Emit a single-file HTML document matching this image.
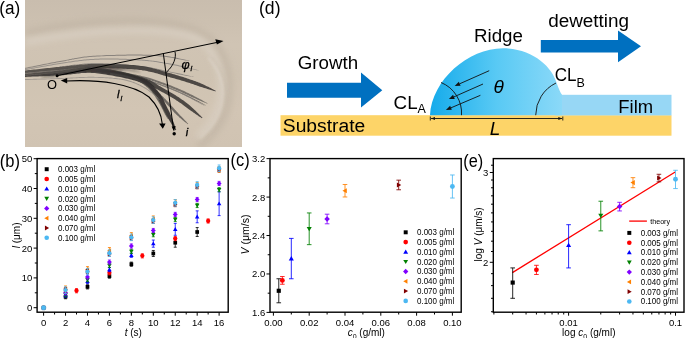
<!DOCTYPE html>
<html><head><meta charset="utf-8"><title>Figure</title>
<style>html,body{margin:0;padding:0;background:#fff;} svg{display:block;}</style>
</head><body>
<svg width="685" height="338" viewBox="0 0 685 338" font-family='"Liberation Sans", Arial, sans-serif'><text x="-0.80" y="14.00" font-size="18" text-anchor="start" fill="#000" textLength="21" lengthAdjust="spacingAndGlyphs" >(a)</text>
<text x="259.00" y="14.00" font-size="18" text-anchor="start" fill="#000" textLength="21.5" lengthAdjust="spacingAndGlyphs" >(d)</text>
<text x="-0.30" y="167.00" font-size="17.5" text-anchor="start" fill="#000" textLength="20.2" lengthAdjust="spacingAndGlyphs" >(b)</text>
<text x="230.60" y="166.40" font-size="17.5" text-anchor="start" fill="#000" textLength="19.2" lengthAdjust="spacingAndGlyphs" >(c)</text>
<text x="463.30" y="166.60" font-size="17.5" text-anchor="start" fill="#000" textLength="19.9" lengthAdjust="spacingAndGlyphs" >(e)</text>
<defs><linearGradient id="pbg" x1="0" y1="0" x2="0" y2="1"><stop offset="0" stop-color="#c9bdae"/><stop offset="0.15" stop-color="#ccc0b0"/><stop offset="0.3" stop-color="#d0c4b4"/><stop offset="0.5" stop-color="#cfc3b2"/><stop offset="0.75" stop-color="#d2c5b4"/><stop offset="1" stop-color="#d0c3b2"/></linearGradient><filter id="bl0" x="-20%" y="-20%" width="140%" height="140%"><feGaussianBlur stdDeviation="0.45"/></filter><filter id="bl1" x="-20%" y="-20%" width="140%" height="140%"><feGaussianBlur stdDeviation="0.8"/></filter><filter id="bl2" x="-20%" y="-20%" width="140%" height="140%"><feGaussianBlur stdDeviation="1.6"/></filter><filter id="bl3" x="-50%" y="-50%" width="200%" height="200%"><feGaussianBlur stdDeviation="3"/></filter><linearGradient id="fmg" x1="20" y1="0" x2="130" y2="0" gradientUnits="userSpaceOnUse"><stop offset="0" stop-color="#fff" stop-opacity="0.9"/><stop offset="0.55" stop-color="#fff" stop-opacity="0.92"/><stop offset="1" stop-color="#fff" stop-opacity="1"/></linearGradient><mask id="fmask" maskUnits="userSpaceOnUse" x="0" y="0" width="685" height="338"><rect x="0" y="0" width="685" height="338" fill="url(#fmg)"/></mask><clipPath id="pclip"><rect x="25" y="0" width="217" height="147"/></clipPath></defs>
<rect x="25" y="0" width="217" height="147" fill="url(#pbg)"/>
<g clip-path="url(#pclip)">
<path d="M25,33 C60,25 100,20 140,21 C175,22 200,28 214,42 C230,60 232,88 227,108 C222,126 210,138 198,147" fill="none" stroke="#c0b4a4" stroke-width="7" filter="url(#bl3)" opacity="0.7"/>
<path d="M25,42 C60,35 100,30 140,30.5 C175,31 195,35 205,44 C218,58 223,78 221,95 C219,112 210,126 198,137" fill="none" stroke="#dbd2c6" stroke-width="6" filter="url(#bl3)" opacity="0.75"/>
<path d="M208,58 C219,70 224,85 222,100 C220,115 212,128 200,138" fill="none" stroke="#ddd5cb" stroke-width="1.5" filter="url(#bl1)" opacity="0.6"/>
<path d="M212,57 C223,70 228,86 226,102 C224,117 216,130 204,140" fill="none" stroke="#b8ac9d" stroke-width="0.9" filter="url(#bl1)" opacity="0.45"/>
<g mask="url(#fmask)">
<path d="M20.1,76.2 L21.0,76.2 L22.1,76.1 L23.3,76.0 L24.6,75.9 L26.0,75.8 L27.4,75.6 L29.0,75.5 L30.7,75.4 L32.4,75.2 L34.2,75.1 L36.1,74.9 L38.0,74.8 L39.9,74.6 L41.8,74.4 L43.8,74.3 L45.7,74.1 L47.6,74.0 L49.6,73.8 L51.4,73.6 L53.3,73.5 L55.1,73.4 L56.9,73.2 L58.5,73.1 L60.1,72.9 L61.7,72.8 L63.3,72.7 L64.8,72.6 L66.4,72.4 L67.9,72.3 L69.5,72.2 L71.0,72.0 L72.6,71.9 L74.1,71.8 L75.6,71.6 L77.1,71.5 L78.6,71.4 L80.1,71.3 L81.5,71.1 L83.0,71.0 L84.4,70.9 L85.8,70.8 L87.2,70.7 L88.6,70.6 L89.9,70.5 L91.2,70.5 L92.5,70.4 L93.8,70.3 L95.1,70.2 L96.3,70.2 L97.5,70.1 L98.7,70.1 L99.9,70.1 L101.0,70.0 L102.1,70.0 L103.2,69.9 L104.3,69.9 L105.4,69.9 L106.4,69.8 L107.4,69.8 L108.4,69.8 L109.4,69.7 L110.4,69.7 L111.4,69.7 L112.4,69.7 L113.3,69.7 L114.3,69.7 L115.2,69.7 L116.2,69.7 L117.1,69.7 L118.0,69.7 L119.0,69.8 L119.9,69.8 L120.8,69.9 L121.8,69.9 L122.7,70.0 L123.7,70.1 L124.7,70.2 L125.6,70.3 L126.6,70.4 L127.6,70.5 L128.6,70.7 L129.5,70.8 L130.5,71.0 L131.4,71.1 L132.3,71.2 L133.2,71.4 L134.0,71.5 L134.9,71.6 L135.7,71.7 L136.4,71.8 L137.1,71.9 L137.8,72.0 L138.4,72.1 L139.0,72.2 L139.5,72.3 L139.9,72.4 L140.1,71.6 L139.6,71.5 L139.1,71.4 L138.6,71.3 L138.0,71.2 L137.3,71.0 L136.6,70.8 L135.9,70.5 L135.1,70.3 L134.3,70.1 L133.5,69.9 L132.6,69.6 L131.7,69.4 L130.8,69.2 L129.9,69.0 L128.9,68.7 L128.0,68.5 L127.0,68.3 L126.0,68.1 L125.0,67.9 L124.0,67.8 L123.0,67.6 L122.0,67.4 L121.1,67.3 L120.1,67.2 L119.2,67.1 L118.2,67.0 L117.3,66.9 L116.3,66.8 L115.3,66.8 L114.4,66.7 L113.4,66.7 L112.4,66.6 L111.5,66.6 L110.5,66.5 L109.4,66.5 L108.4,66.5 L107.4,66.5 L106.4,66.4 L105.3,66.4 L104.2,66.4 L103.1,66.4 L102.0,66.5 L100.9,66.5 L99.7,66.6 L98.6,66.6 L97.4,66.6 L96.2,66.7 L94.9,66.8 L93.6,66.8 L92.4,66.9 L91.0,67.0 L89.7,67.0 L88.3,67.1 L86.9,67.2 L85.5,67.3 L84.1,67.4 L82.7,67.5 L81.2,67.7 L79.8,67.8 L78.3,67.9 L76.8,68.0 L75.3,68.2 L73.8,68.3 L72.3,68.4 L70.7,68.5 L69.2,68.7 L67.6,68.8 L66.1,68.9 L64.5,69.1 L63.0,69.2 L61.4,69.3 L59.9,69.5 L58.3,69.6 L56.6,69.7 L54.8,69.9 L53.0,70.0 L51.2,70.2 L49.3,70.3 L47.4,70.5 L45.4,70.6 L43.5,70.8 L41.5,71.0 L39.6,71.1 L37.7,71.3 L35.8,71.4 L33.9,71.6 L32.1,71.7 L30.4,71.9 L28.7,72.0 L27.2,72.1 L25.7,72.3 L24.3,72.4 L23.0,72.5 L21.8,72.6 L20.8,72.7 L19.9,72.8 Z" fill="#4a4643" fill-opacity="0.55" filter="url(#bl1)"/>
<path d="M20.1,69.9 L21.0,69.7 L22.0,69.5 L23.2,69.3 L24.5,69.0 L25.9,68.7 L27.4,68.4 L29.0,68.1 L30.7,67.7 L32.4,67.4 L34.2,67.0 L36.0,66.7 L37.9,66.3 L39.8,65.9 L41.8,65.5 L43.7,65.1 L45.7,64.7 L47.6,64.3 L49.5,64.0 L51.4,63.6 L53.3,63.2 L55.1,62.9 L56.8,62.6 L58.5,62.3 L60.1,62.0 L61.6,61.7 L63.1,61.4 L64.5,61.2 L65.9,60.9 L67.3,60.6 L68.6,60.4 L69.9,60.1 L71.2,59.9 L72.5,59.6 L73.8,59.4 L75.0,59.1 L76.3,58.9 L77.6,58.7 L79.0,58.4 L80.3,58.2 L81.7,58.0 L83.2,57.8 L84.7,57.6 L86.2,57.5 L87.8,57.3 L89.5,57.1 L91.3,57.0 L93.1,56.8 L95.0,56.7 L97.1,56.6 L99.2,56.5 L101.5,56.3 L103.9,56.2 L106.3,56.1 L108.8,56.1 L111.4,56.0 L114.1,55.9 L116.8,55.8 L119.5,55.8 L122.2,55.7 L125.0,55.7 L127.8,55.6 L130.5,55.6 L133.2,55.6 L135.9,55.6 L138.6,55.6 L141.2,55.6 L143.7,55.7 L146.1,55.7 L148.5,55.8 L150.8,55.8 L152.9,55.9 L155.0,56.0 L156.9,56.1 L158.9,56.3 L160.8,56.4 L162.6,56.6 L164.5,56.8 L166.3,57.1 L168.0,57.3 L169.7,57.6 L171.4,57.8 L173.0,58.1 L174.6,58.4 L176.2,58.7 L177.6,58.9 L179.1,59.2 L180.5,59.5 L181.8,59.7 L183.0,59.9 L184.2,60.2 L185.4,60.4 L186.4,60.6 L187.4,60.7 L188.4,60.9 L189.2,61.0 L190.0,61.1 L190.0,60.9 L189.3,60.7 L188.4,60.6 L187.5,60.3 L186.5,60.1 L185.5,59.8 L184.4,59.6 L183.2,59.3 L181.9,59.0 L180.6,58.7 L179.2,58.4 L177.8,58.1 L176.3,57.7 L174.8,57.4 L173.2,57.1 L171.6,56.9 L169.9,56.6 L168.2,56.3 L166.4,56.1 L164.6,55.8 L162.7,55.6 L160.9,55.4 L158.9,55.3 L157.0,55.1 L155.0,55.0 L153.0,54.9 L150.8,54.8 L148.5,54.8 L146.2,54.7 L143.7,54.7 L141.2,54.6 L138.6,54.6 L135.9,54.6 L133.2,54.6 L130.5,54.6 L127.8,54.6 L125.0,54.7 L122.2,54.7 L119.5,54.8 L116.8,54.8 L114.1,54.9 L111.4,55.0 L108.8,55.1 L106.3,55.1 L103.8,55.2 L101.5,55.4 L99.2,55.5 L97.0,55.6 L95.0,55.7 L93.0,55.8 L91.2,56.0 L89.4,56.1 L87.7,56.3 L86.1,56.5 L84.5,56.6 L83.0,56.8 L81.6,57.0 L80.2,57.2 L78.8,57.5 L77.5,57.7 L76.2,57.9 L74.9,58.1 L73.6,58.4 L72.3,58.6 L71.0,58.9 L69.7,59.1 L68.4,59.4 L67.1,59.7 L65.7,59.9 L64.3,60.2 L62.9,60.5 L61.4,60.7 L59.9,61.0 L58.3,61.3 L56.6,61.6 L54.9,61.9 L53.1,62.3 L51.2,62.6 L49.3,63.0 L47.4,63.4 L45.5,63.7 L43.5,64.1 L41.6,64.5 L39.6,64.9 L37.7,65.3 L35.8,65.7 L34.0,66.0 L32.2,66.4 L30.5,66.8 L28.8,67.1 L27.2,67.4 L25.7,67.7 L24.3,68.0 L23.0,68.3 L21.8,68.5 L20.8,68.7 L19.9,68.9 Z" fill="#7f7a75" fill-opacity="0.9" filter="url(#bl0)"/>
<path d="M20.1,71.1 L21.0,70.9 L22.0,70.7 L23.2,70.5 L24.5,70.3 L25.9,70.0 L27.4,69.7 L29.0,69.5 L30.6,69.1 L32.4,68.8 L34.2,68.5 L36.0,68.1 L37.9,67.8 L39.8,67.5 L41.8,67.1 L43.7,66.8 L45.6,66.4 L47.6,66.1 L49.5,65.7 L51.4,65.4 L53.2,65.1 L55.0,64.8 L56.8,64.5 L58.5,64.2 L60.1,64.0 L61.6,63.8 L63.1,63.5 L64.6,63.3 L66.1,63.1 L67.5,62.8 L68.9,62.6 L70.3,62.4 L71.7,62.2 L73.1,62.0 L74.5,61.8 L75.9,61.6 L77.3,61.4 L78.6,61.2 L80.0,61.1 L81.4,60.9 L82.8,60.7 L84.3,60.6 L85.7,60.4 L87.2,60.3 L88.7,60.2 L90.2,60.1 L91.8,60.0 L93.4,59.9 L95.0,59.8 L96.7,59.7 L98.5,59.7 L100.3,59.6 L102.1,59.6 L104.0,59.6 L105.9,59.6 L107.8,59.5 L109.8,59.5 L111.8,59.6 L113.8,59.6 L115.8,59.6 L117.8,59.6 L119.8,59.7 L121.8,59.7 L123.8,59.8 L125.7,59.8 L127.7,59.9 L129.6,60.0 L131.4,60.1 L133.2,60.1 L135.0,60.2 L136.7,60.3 L138.4,60.4 L140.0,60.5 L141.5,60.6 L143.0,60.7 L144.4,60.8 L145.8,60.9 L147.2,61.1 L148.5,61.2 L149.8,61.3 L151.1,61.5 L152.3,61.6 L153.5,61.8 L154.7,62.0 L155.9,62.1 L157.1,62.3 L158.3,62.5 L159.4,62.7 L160.5,62.9 L161.7,63.0 L162.8,63.2 L164.0,63.4 L165.1,63.6 L166.3,63.9 L167.5,64.1 L168.7,64.3 L169.9,64.5 L171.2,64.7 L172.4,65.0 L173.8,65.2 L175.1,65.5 L176.5,65.8 L177.9,66.1 L179.3,66.4 L180.7,66.7 L182.1,67.0 L183.5,67.3 L184.9,67.6 L186.3,67.9 L187.6,68.2 L188.9,68.5 L190.2,68.8 L191.4,69.1 L192.6,69.3 L193.7,69.6 L194.8,69.8 L195.8,70.0 L196.7,70.2 L197.6,70.3 L198.3,70.5 L199.0,70.6 L199.0,70.4 L198.4,70.2 L197.6,70.0 L196.8,69.8 L195.9,69.5 L194.9,69.3 L193.9,69.0 L192.8,68.7 L191.6,68.4 L190.4,68.1 L189.1,67.7 L187.8,67.4 L186.5,67.1 L185.1,66.7 L183.7,66.4 L182.3,66.1 L180.9,65.7 L179.5,65.4 L178.1,65.1 L176.7,64.8 L175.3,64.5 L174.0,64.2 L172.6,64.0 L171.3,63.7 L170.1,63.5 L168.9,63.3 L167.7,63.1 L166.5,62.9 L165.3,62.7 L164.2,62.5 L163.0,62.3 L161.9,62.1 L160.7,61.9 L159.6,61.7 L158.4,61.5 L157.2,61.3 L156.1,61.1 L154.9,61.0 L153.7,60.8 L152.5,60.7 L151.2,60.5 L149.9,60.4 L148.6,60.2 L147.3,60.1 L145.9,59.9 L144.5,59.8 L143.1,59.7 L141.6,59.6 L140.0,59.5 L138.4,59.4 L136.8,59.3 L135.0,59.2 L133.3,59.1 L131.5,59.1 L129.6,59.0 L127.7,58.9 L125.8,58.8 L123.8,58.8 L121.8,58.7 L119.8,58.7 L117.8,58.6 L115.8,58.6 L113.8,58.6 L111.8,58.6 L109.8,58.5 L107.8,58.5 L105.9,58.6 L104.0,58.6 L102.1,58.6 L100.2,58.6 L98.4,58.7 L96.7,58.7 L95.0,58.8 L93.3,58.9 L91.7,59.0 L90.1,59.1 L88.6,59.2 L87.1,59.3 L85.6,59.4 L84.2,59.6 L82.7,59.7 L81.3,59.9 L79.9,60.1 L78.5,60.2 L77.1,60.4 L75.7,60.6 L74.4,60.8 L73.0,61.0 L71.6,61.2 L70.2,61.4 L68.8,61.6 L67.4,61.9 L65.9,62.1 L64.5,62.3 L63.0,62.5 L61.5,62.8 L59.9,63.0 L58.3,63.3 L56.6,63.5 L54.9,63.8 L53.1,64.1 L51.2,64.4 L49.3,64.7 L47.4,65.1 L45.5,65.4 L43.5,65.8 L41.6,66.1 L39.6,66.5 L37.7,66.8 L35.8,67.2 L34.0,67.5 L32.2,67.8 L30.5,68.2 L28.8,68.5 L27.2,68.8 L25.7,69.0 L24.3,69.3 L23.0,69.5 L21.9,69.8 L20.8,69.9 L19.9,70.1 Z" fill="#8a8580" fill-opacity="0.85" filter="url(#bl0)"/>
<path d="M60.0,67.4 L60.8,67.4 L61.7,67.3 L62.7,67.1 L63.8,67.0 L64.9,66.8 L66.1,66.7 L67.4,66.5 L68.8,66.3 L70.2,66.1 L71.7,65.9 L73.2,65.7 L74.7,65.5 L76.3,65.3 L78.0,65.1 L79.7,65.0 L81.3,64.8 L83.0,64.6 L84.8,64.5 L86.5,64.3 L88.2,64.2 L89.9,64.1 L91.6,64.0 L93.3,64.0 L95.0,63.9 L96.7,63.9 L98.5,63.9 L100.3,64.0 L102.1,64.0 L104.0,64.1 L106.0,64.1 L107.9,64.2 L109.9,64.3 L111.9,64.4 L113.9,64.5 L115.9,64.6 L118.0,64.8 L120.0,64.9 L122.0,65.0 L124.0,65.2 L125.9,65.3 L127.9,65.5 L129.7,65.7 L131.6,65.8 L133.4,66.0 L135.1,66.1 L136.8,66.3 L138.4,66.5 L140.0,66.6 L141.4,66.8 L142.8,67.0 L144.2,67.2 L145.5,67.4 L146.7,67.6 L147.9,67.8 L149.1,68.0 L150.2,68.2 L151.4,68.4 L152.4,68.6 L153.5,68.8 L154.5,69.1 L155.6,69.3 L156.6,69.5 L157.6,69.7 L158.6,70.0 L159.6,70.2 L160.6,70.5 L161.6,70.7 L162.6,70.9 L163.7,71.2 L164.7,71.4 L165.8,71.6 L166.9,71.8 L168.1,72.1 L169.2,72.3 L170.5,72.6 L171.7,72.8 L173.0,73.1 L174.3,73.3 L175.6,73.6 L176.9,73.9 L178.2,74.2 L179.5,74.4 L180.8,74.7 L182.1,75.0 L183.4,75.2 L184.6,75.4 L185.8,75.7 L186.9,75.9 L188.0,76.1 L189.1,76.3 L190.1,76.4 L191.0,76.6 L191.9,76.7 L192.7,76.9 L193.4,77.0 L194.0,77.1 L194.0,76.9 L193.4,76.8 L192.7,76.6 L192.0,76.4 L191.1,76.2 L190.2,75.9 L189.2,75.7 L188.2,75.5 L187.1,75.2 L185.9,74.9 L184.7,74.7 L183.5,74.4 L182.3,74.1 L181.0,73.8 L179.7,73.5 L178.4,73.3 L177.1,73.0 L175.8,72.7 L174.5,72.5 L173.2,72.2 L171.9,71.9 L170.6,71.7 L169.4,71.4 L168.2,71.2 L167.1,71.0 L166.0,70.7 L164.9,70.5 L163.8,70.3 L162.8,70.0 L161.8,69.8 L160.8,69.6 L159.8,69.3 L158.8,69.1 L157.8,68.9 L156.8,68.6 L155.7,68.4 L154.7,68.2 L153.7,68.0 L152.6,67.7 L151.5,67.5 L150.4,67.3 L149.3,67.1 L148.1,66.9 L146.9,66.7 L145.6,66.5 L144.3,66.3 L142.9,66.1 L141.5,65.9 L140.0,65.8 L138.5,65.6 L136.9,65.4 L135.2,65.3 L133.5,65.1 L131.7,64.9 L129.8,64.8 L127.9,64.6 L126.0,64.4 L124.0,64.3 L122.1,64.1 L120.0,64.0 L118.0,63.9 L116.0,63.7 L114.0,63.6 L112.0,63.5 L109.9,63.4 L108.0,63.3 L106.0,63.2 L104.0,63.2 L102.1,63.1 L100.3,63.1 L98.5,63.0 L96.7,63.0 L95.0,63.1 L93.3,63.1 L91.6,63.1 L89.9,63.2 L88.2,63.3 L86.4,63.4 L84.7,63.6 L83.0,63.7 L81.3,63.9 L79.6,64.1 L77.9,64.2 L76.2,64.4 L74.6,64.6 L73.1,64.8 L71.5,65.0 L70.1,65.2 L68.6,65.4 L67.3,65.6 L66.0,65.8 L64.8,65.9 L63.6,66.1 L62.6,66.2 L61.6,66.4 L60.7,66.5 L60.0,66.6 Z" fill="#827d78" fill-opacity="0.8" filter="url(#bl0)"/>
<path d="M20.1,73.5 L21.0,73.4 L22.1,73.3 L23.2,73.2 L24.5,73.1 L25.9,73.0 L27.4,72.9 L29.0,72.7 L30.7,72.6 L32.4,72.4 L34.2,72.3 L36.1,72.1 L37.9,72.0 L39.9,71.8 L41.8,71.6 L43.7,71.5 L45.7,71.3 L47.6,71.2 L49.6,71.0 L51.5,70.8 L53.3,70.7 L55.1,70.6 L56.9,70.4 L58.5,70.3 L60.1,70.2 L61.7,70.1 L63.2,69.9 L64.7,69.8 L66.2,69.7 L67.6,69.6 L69.0,69.5 L70.4,69.3 L71.8,69.2 L73.2,69.1 L74.6,69.0 L76.0,68.9 L77.4,68.8 L78.7,68.7 L80.1,68.6 L81.5,68.5 L82.9,68.4 L84.3,68.3 L85.8,68.3 L87.2,68.2 L88.7,68.2 L90.2,68.1 L91.8,68.1 L93.4,68.1 L95.0,68.0 L96.7,68.0 L98.4,68.0 L100.2,68.0 L102.1,68.1 L103.9,68.1 L105.8,68.1 L107.8,68.1 L109.7,68.2 L111.7,68.2 L113.7,68.3 L115.7,68.3 L117.7,68.4 L119.7,68.5 L121.6,68.6 L123.6,68.7 L125.5,68.8 L127.5,68.9 L129.4,69.0 L131.2,69.1 L133.0,69.3 L134.8,69.4 L136.5,69.6 L138.2,69.8 L139.7,69.9 L141.3,70.1 L142.8,70.4 L144.3,70.6 L145.7,70.8 L147.1,71.1 L148.5,71.4 L149.8,71.7 L151.2,72.0 L152.5,72.3 L153.8,72.6 L155.0,72.9 L156.3,73.3 L157.5,73.6 L158.7,74.0 L159.9,74.3 L161.1,74.7 L162.3,75.0 L163.5,75.4 L164.7,75.7 L165.8,76.0 L167.0,76.4 L168.2,76.7 L169.3,77.0 L170.5,77.4 L171.6,77.7 L172.7,78.0 L173.8,78.3 L174.9,78.6 L176.0,78.9 L177.0,79.2 L178.1,79.5 L179.1,79.8 L180.1,80.1 L181.1,80.4 L182.1,80.7 L183.1,81.0 L184.1,81.3 L185.0,81.6 L186.0,81.9 L186.9,82.2 L187.9,82.5 L188.8,82.8 L189.8,83.1 L190.7,83.4 L191.6,83.7 L192.6,84.0 L193.5,84.3 L194.4,84.7 L195.3,85.0 L196.3,85.3 L197.3,85.7 L198.3,86.0 L199.3,86.4 L200.3,86.7 L201.3,87.0 L202.3,87.3 L203.4,87.7 L204.4,88.0 L205.4,88.3 L206.3,88.6 L207.3,89.0 L208.2,89.3 L209.2,89.6 L210.0,89.8 L210.9,90.1 L211.7,90.3 L212.5,90.6 L213.2,90.8 L213.8,90.9 L214.5,91.1 L215.0,91.3 L215.5,91.5 L215.7,90.7 L215.3,90.5 L214.8,90.3 L214.2,90.0 L213.6,89.7 L213.0,89.3 L212.3,88.9 L211.5,88.5 L210.7,88.1 L209.9,87.7 L209.1,87.3 L208.2,86.8 L207.3,86.4 L206.3,85.9 L205.4,85.5 L204.4,85.0 L203.4,84.6 L202.4,84.1 L201.5,83.7 L200.5,83.2 L199.5,82.8 L198.5,82.4 L197.5,82.0 L196.5,81.7 L195.6,81.3 L194.7,81.0 L193.7,80.7 L192.8,80.3 L191.9,80.0 L190.9,79.7 L190.0,79.4 L189.0,79.1 L188.1,78.7 L187.1,78.4 L186.2,78.1 L185.2,77.8 L184.2,77.5 L183.2,77.1 L182.2,76.8 L181.2,76.5 L180.2,76.2 L179.2,75.9 L178.1,75.6 L177.0,75.2 L176.0,74.9 L174.9,74.6 L173.8,74.3 L172.7,74.0 L171.5,73.6 L170.4,73.3 L169.2,73.0 L168.1,72.7 L167.0,72.3 L165.8,72.0 L164.6,71.6 L163.5,71.2 L162.3,70.9 L161.1,70.5 L159.8,70.1 L158.6,69.8 L157.3,69.4 L156.1,69.1 L154.8,68.7 L153.4,68.4 L152.1,68.1 L150.7,67.7 L149.3,67.4 L147.9,67.1 L146.4,66.8 L144.9,66.6 L143.4,66.3 L141.9,66.1 L140.3,65.9 L138.6,65.7 L136.9,65.5 L135.2,65.3 L133.4,65.1 L131.5,65.0 L129.6,64.9 L127.7,64.7 L125.8,64.6 L123.8,64.5 L121.8,64.4 L119.8,64.3 L117.8,64.2 L115.8,64.2 L113.8,64.1 L111.8,64.1 L109.8,64.0 L107.8,64.0 L105.9,64.0 L104.0,63.9 L102.1,63.9 L100.2,63.9 L98.4,63.9 L96.7,63.9 L95.0,64.0 L93.3,64.0 L91.7,64.0 L90.1,64.1 L88.6,64.1 L87.0,64.2 L85.6,64.3 L84.1,64.4 L82.6,64.5 L81.2,64.6 L79.8,64.7 L78.4,64.9 L77.0,65.0 L75.6,65.2 L74.3,65.3 L72.9,65.4 L71.5,65.6 L70.1,65.7 L68.7,65.9 L67.3,66.1 L65.8,66.2 L64.4,66.4 L62.9,66.5 L61.4,66.7 L59.9,66.8 L58.3,67.0 L56.6,67.1 L54.8,67.3 L53.0,67.5 L51.2,67.7 L49.3,67.9 L47.4,68.1 L45.4,68.3 L43.5,68.5 L41.5,68.7 L39.6,68.9 L37.7,69.2 L35.8,69.4 L34.0,69.6 L32.2,69.8 L30.4,69.9 L28.8,70.1 L27.2,70.3 L25.7,70.5 L24.3,70.6 L23.0,70.8 L21.8,70.9 L20.8,71.0 L19.9,71.1 Z" fill="#3e3a37" fill-opacity="0.9" filter="url(#bl0)"/>
<path d="M20.0,74.0 L20.9,74.0 L22.0,73.9 L23.2,73.8 L24.4,73.7 L25.8,73.6 L27.3,73.5 L28.9,73.4 L30.6,73.3 L32.3,73.2 L34.1,73.0 L36.0,72.9 L37.9,72.8 L39.8,72.6 L41.7,72.5 L43.7,72.4 L45.6,72.2 L47.5,72.1 L49.5,72.0 L51.4,71.8 L53.2,71.7 L55.0,71.6 L56.8,71.5 L58.4,71.4 L60.1,71.3 L61.6,71.2 L63.1,71.1 L64.6,70.9 L66.1,70.8 L67.5,70.7 L69.0,70.5 L70.4,70.4 L71.8,70.2 L73.1,70.1 L74.5,70.0 L75.9,69.8 L77.3,69.7 L78.6,69.6 L80.0,69.5 L81.4,69.4 L82.8,69.3 L84.2,69.3 L85.7,69.2 L87.2,69.2 L88.6,69.2 L90.2,69.3 L91.7,69.3 L93.3,69.4 L94.9,69.5 L96.6,69.6 L98.4,69.8 L100.2,70.0 L102.1,70.3 L104.0,70.6 L106.0,70.8 L108.0,71.2 L110.0,71.5 L112.0,71.9 L114.1,72.2 L116.1,72.6 L118.2,73.0 L120.2,73.4 L122.3,73.8 L124.3,74.2 L126.2,74.6 L128.1,75.1 L130.0,75.4 L131.8,75.8 L133.6,76.2 L135.3,76.6 L136.9,76.9 L138.4,77.3 L139.8,77.6 L141.1,77.9 L142.4,78.2 L143.5,78.4 L144.6,78.7 L145.7,78.9 L146.6,79.2 L147.5,79.4 L148.4,79.7 L149.3,79.9 L150.1,80.2 L150.8,80.4 L151.6,80.6 L152.3,80.9 L153.0,81.1 L153.7,81.3 L154.4,81.6 L155.1,81.8 L155.7,82.1 L156.5,82.3 L157.2,82.6 L157.9,82.9 L158.7,83.2 L159.5,83.4 L160.4,83.7 L161.2,84.0 L162.1,84.3 L162.9,84.6 L163.8,85.0 L164.6,85.3 L165.4,85.6 L166.3,85.9 L167.1,86.2 L167.9,86.5 L168.7,86.8 L169.6,87.2 L170.4,87.5 L171.2,87.8 L172.1,88.2 L172.9,88.5 L173.8,88.9 L174.7,89.2 L175.5,89.6 L176.4,90.0 L177.3,90.4 L178.3,90.8 L179.2,91.2 L180.1,91.6 L181.1,92.0 L182.1,92.5 L183.1,92.9 L184.3,93.4 L185.4,94.0 L186.6,94.5 L187.8,95.1 L189.0,95.7 L190.3,96.3 L191.5,96.9 L192.8,97.5 L194.1,98.0 L195.4,98.6 L196.6,99.2 L197.9,99.7 L199.0,100.2 L200.2,100.7 L201.3,101.2 L202.4,101.7 L203.4,102.1 L204.3,102.5 L205.2,102.8 L206.0,103.1 L206.7,103.4 L207.3,103.7 L207.5,103.3 L206.9,103.0 L206.3,102.6 L205.5,102.2 L204.7,101.7 L203.8,101.2 L202.9,100.7 L201.9,100.1 L200.8,99.5 L199.7,98.9 L198.5,98.3 L197.3,97.7 L196.1,97.0 L194.9,96.4 L193.7,95.7 L192.4,95.1 L191.1,94.5 L189.9,93.9 L188.7,93.3 L187.4,92.7 L186.2,92.2 L185.1,91.6 L184.0,91.1 L182.9,90.6 L181.9,90.2 L180.9,89.8 L180.0,89.3 L179.1,88.9 L178.1,88.5 L177.2,88.1 L176.3,87.8 L175.4,87.4 L174.6,87.0 L173.7,86.7 L172.8,86.3 L172.0,86.0 L171.1,85.6 L170.3,85.3 L169.5,85.0 L168.6,84.6 L167.8,84.3 L167.0,84.0 L166.1,83.7 L165.3,83.4 L164.4,83.1 L163.6,82.8 L162.7,82.5 L161.9,82.2 L161.0,81.9 L160.2,81.6 L159.4,81.3 L158.6,81.0 L157.9,80.7 L157.1,80.5 L156.4,80.2 L155.7,80.0 L155.0,79.7 L154.3,79.5 L153.6,79.2 L152.9,79.0 L152.2,78.7 L151.4,78.5 L150.6,78.3 L149.8,78.0 L149.0,77.8 L148.1,77.5 L147.1,77.3 L146.1,77.0 L145.1,76.7 L144.0,76.5 L142.8,76.2 L141.5,75.9 L140.2,75.6 L138.8,75.3 L137.3,75.0 L135.7,74.6 L134.0,74.3 L132.3,73.9 L130.4,73.5 L128.6,73.1 L126.6,72.7 L124.7,72.3 L122.7,71.9 L120.6,71.5 L118.6,71.1 L116.5,70.7 L114.5,70.3 L112.4,69.9 L110.3,69.5 L108.3,69.2 L106.3,68.9 L104.3,68.6 L102.3,68.3 L100.4,68.0 L98.6,67.8 L96.8,67.7 L95.1,67.5 L93.4,67.4 L91.8,67.3 L90.2,67.3 L88.7,67.2 L87.1,67.2 L85.6,67.3 L84.2,67.3 L82.7,67.4 L81.3,67.5 L79.9,67.6 L78.5,67.8 L77.1,67.9 L75.7,68.0 L74.3,68.2 L73.0,68.3 L71.6,68.5 L70.2,68.7 L68.8,68.8 L67.4,69.0 L65.9,69.2 L64.5,69.3 L63.0,69.5 L61.5,69.6 L59.9,69.7 L58.3,69.9 L56.7,70.0 L54.9,70.1 L53.1,70.3 L51.3,70.4 L49.4,70.6 L47.4,70.7 L45.5,70.9 L43.6,71.1 L41.6,71.2 L39.7,71.4 L37.8,71.6 L35.9,71.7 L34.0,71.9 L32.2,72.1 L30.5,72.2 L28.8,72.4 L27.3,72.5 L25.8,72.6 L24.4,72.8 L23.1,72.9 L21.9,73.0 L20.9,73.1 L20.0,73.2 Z" fill="#66615c" fill-opacity="0.85" filter="url(#bl0)"/>
<path d="M119.9,74.4 L120.4,74.5 L120.9,74.7 L121.4,74.8 L122.1,74.9 L122.8,75.1 L123.5,75.2 L124.3,75.4 L125.1,75.6 L125.9,75.8 L126.8,76.0 L127.7,76.2 L128.7,76.4 L129.6,76.6 L130.6,76.8 L131.5,77.0 L132.5,77.2 L133.5,77.5 L134.4,77.7 L135.4,77.9 L136.3,78.1 L137.3,78.4 L138.2,78.6 L139.0,78.8 L139.9,79.0 L140.7,79.3 L141.5,79.5 L142.4,79.7 L143.2,79.9 L144.0,80.1 L144.8,80.3 L145.7,80.6 L146.5,80.8 L147.3,81.0 L148.1,81.2 L148.9,81.5 L149.8,81.7 L150.6,81.9 L151.4,82.2 L152.2,82.4 L153.1,82.7 L153.9,82.9 L154.7,83.2 L155.6,83.5 L156.4,83.7 L157.3,84.0 L158.1,84.3 L159.0,84.6 L159.8,84.9 L160.7,85.2 L161.6,85.6 L162.5,85.9 L163.4,86.2 L164.3,86.5 L165.2,86.9 L166.0,87.2 L166.9,87.6 L167.8,87.9 L168.8,88.3 L169.7,88.7 L170.6,89.0 L171.5,89.4 L172.4,89.8 L173.3,90.2 L174.3,90.6 L175.2,91.0 L176.1,91.4 L177.1,91.8 L178.0,92.2 L179.0,92.6 L179.9,93.0 L180.9,93.5 L181.8,93.9 L182.8,94.4 L183.8,94.8 L184.9,95.3 L186.0,95.9 L187.1,96.4 L188.2,97.0 L189.4,97.5 L190.5,98.1 L191.7,98.7 L192.9,99.3 L194.0,99.9 L195.2,100.5 L196.3,101.0 L197.4,101.6 L198.5,102.1 L199.5,102.6 L200.5,103.1 L201.5,103.6 L202.4,104.0 L203.2,104.4 L204.0,104.8 L204.8,105.1 L205.4,105.3 L205.9,105.6 L206.1,105.4 L205.5,105.1 L204.9,104.8 L204.2,104.4 L203.5,103.9 L202.7,103.5 L201.8,103.0 L200.9,102.4 L199.9,101.9 L198.9,101.3 L197.8,100.8 L196.7,100.2 L195.6,99.7 L194.4,99.1 L193.3,98.5 L192.1,97.9 L190.9,97.3 L189.8,96.7 L188.6,96.2 L187.5,95.6 L186.4,95.1 L185.3,94.5 L184.2,94.0 L183.2,93.5 L182.2,93.1 L181.2,92.7 L180.3,92.2 L179.3,91.8 L178.4,91.4 L177.4,91.0 L176.5,90.6 L175.6,90.1 L174.6,89.7 L173.7,89.4 L172.8,89.0 L171.8,88.6 L170.9,88.2 L170.0,87.8 L169.1,87.5 L168.2,87.1 L167.3,86.7 L166.4,86.4 L165.5,86.0 L164.6,85.7 L163.7,85.4 L162.8,85.0 L161.9,84.7 L161.0,84.4 L160.2,84.1 L159.3,83.8 L158.4,83.5 L157.5,83.2 L156.7,82.9 L155.8,82.6 L155.0,82.3 L154.2,82.1 L153.3,81.8 L152.5,81.6 L151.7,81.3 L150.8,81.1 L150.0,80.8 L149.2,80.6 L148.4,80.4 L147.5,80.1 L146.7,79.9 L145.9,79.7 L145.1,79.5 L144.2,79.3 L143.4,79.0 L142.6,78.8 L141.8,78.6 L140.9,78.4 L140.1,78.2 L139.3,77.9 L138.4,77.7 L137.5,77.5 L136.5,77.3 L135.6,77.0 L134.6,76.8 L133.7,76.6 L132.7,76.4 L131.7,76.1 L130.8,75.9 L129.8,75.7 L128.8,75.5 L127.9,75.3 L127.0,75.1 L126.1,74.9 L125.3,74.7 L124.5,74.5 L123.7,74.4 L123.0,74.2 L122.3,74.0 L121.6,73.9 L121.1,73.8 L120.5,73.7 L120.1,73.6 Z" fill="#55504c" fill-opacity="0.8" filter="url(#bl0)"/>
<path d="M30.0,74.8 L31.5,74.7 L33.3,74.5 L35.2,74.3 L37.4,74.1 L39.7,73.9 L42.2,73.6 L44.9,73.3 L47.6,73.1 L50.5,72.8 L53.5,72.5 L56.6,72.2 L59.7,71.9 L62.9,71.6 L66.1,71.3 L69.3,71.0 L72.4,70.8 L75.6,70.6 L78.7,70.4 L81.7,70.2 L84.6,70.1 L87.4,70.0 L90.1,69.9 L92.6,69.9 L95.0,70.0 L97.2,70.1 L99.5,70.2 L101.7,70.4 L103.9,70.7 L106.0,70.9 L108.1,71.2 L110.2,71.5 L112.2,71.9 L114.3,72.2 L116.2,72.6 L118.2,73.0 L120.1,73.5 L121.9,73.9 L123.8,74.3 L125.6,74.8 L127.3,75.2 L129.0,75.7 L130.7,76.1 L132.3,76.5 L133.9,77.0 L135.5,77.4 L137.0,77.8 L138.5,78.1 L139.9,78.5 L141.2,78.8 L142.5,79.1 L143.7,79.5 L144.9,79.8 L146.0,80.1 L147.0,80.4 L148.0,80.7 L148.9,81.0 L149.8,81.3 L150.7,81.6 L151.5,81.9 L152.3,82.2 L153.1,82.5 L153.9,82.8 L154.6,83.1 L155.4,83.4 L156.2,83.7 L156.9,84.0 L157.7,84.4 L158.5,84.7 L159.3,85.0 L160.1,85.3 L160.9,85.6 L161.8,86.0 L162.7,86.3 L163.6,86.6 L164.5,87.0 L165.4,87.3 L166.2,87.6 L167.1,87.9 L168.0,88.3 L168.9,88.6 L169.7,88.9 L170.6,89.3 L171.5,89.6 L172.3,89.9 L173.2,90.3 L174.0,90.6 L174.9,91.0 L175.8,91.3 L176.6,91.7 L177.5,92.1 L178.4,92.4 L179.3,92.8 L180.1,93.2 L181.0,93.6 L181.9,94.0 L182.8,94.5 L183.7,94.9 L184.6,95.4 L185.6,95.9 L186.6,96.4 L187.7,96.9 L188.7,97.5 L189.8,98.0 L190.8,98.6 L191.9,99.2 L193.0,99.8 L194.1,100.3 L195.1,100.9 L196.1,101.4 L197.2,102.0 L198.1,102.5 L199.1,103.0 L200.0,103.5 L200.9,104.0 L201.7,104.4 L202.5,104.8 L203.2,105.2 L203.9,105.5 L204.4,105.8 L204.9,106.1 L205.1,105.9 L204.6,105.6 L204.0,105.3 L203.4,104.9 L202.7,104.5 L202.0,104.0 L201.2,103.5 L200.3,103.0 L199.4,102.5 L198.5,101.9 L197.5,101.4 L196.5,100.8 L195.5,100.2 L194.5,99.6 L193.4,99.0 L192.4,98.4 L191.3,97.8 L190.2,97.2 L189.2,96.6 L188.1,96.0 L187.1,95.5 L186.1,95.0 L185.1,94.5 L184.1,94.0 L183.2,93.5 L182.3,93.1 L181.4,92.7 L180.5,92.3 L179.7,91.9 L178.8,91.5 L177.9,91.1 L177.0,90.8 L176.2,90.4 L175.3,90.0 L174.4,89.7 L173.6,89.3 L172.7,89.0 L171.8,88.7 L171.0,88.3 L170.1,88.0 L169.2,87.7 L168.3,87.3 L167.5,87.0 L166.6,86.7 L165.7,86.3 L164.8,86.0 L164.0,85.7 L163.1,85.4 L162.2,85.0 L161.3,84.7 L160.5,84.4 L159.6,84.1 L158.8,83.7 L158.1,83.4 L157.3,83.1 L156.5,82.8 L155.8,82.5 L155.0,82.2 L154.3,81.9 L153.5,81.6 L152.7,81.3 L151.9,81.0 L151.0,80.7 L150.1,80.4 L149.2,80.1 L148.3,79.8 L147.3,79.4 L146.2,79.1 L145.1,78.8 L144.0,78.5 L142.8,78.2 L141.5,77.8 L140.1,77.5 L138.7,77.2 L137.2,76.8 L135.7,76.4 L134.2,76.0 L132.6,75.6 L131.0,75.2 L129.3,74.7 L127.6,74.3 L125.8,73.8 L124.0,73.4 L122.2,72.9 L120.3,72.5 L118.4,72.1 L116.4,71.7 L114.4,71.3 L112.4,70.9 L110.4,70.5 L108.3,70.2 L106.1,69.9 L104.0,69.7 L101.8,69.4 L99.6,69.2 L97.3,69.1 L95.0,69.0 L92.6,68.9 L90.1,68.9 L87.4,69.0 L84.6,69.1 L81.6,69.2 L78.6,69.4 L75.5,69.6 L72.4,69.8 L69.2,70.0 L66.0,70.3 L62.8,70.6 L59.6,70.9 L56.5,71.2 L53.4,71.5 L50.4,71.8 L47.5,72.1 L44.8,72.4 L42.1,72.6 L39.6,72.9 L37.3,73.1 L35.1,73.3 L33.2,73.5 L31.4,73.7 L30.0,73.8 Z" fill="#85807b" fill-opacity="0.8" filter="url(#bl0)"/>
<path d="M20.0,75.7 L21.0,75.6 L22.0,75.5 L23.2,75.5 L24.5,75.4 L25.9,75.3 L27.4,75.2 L29.0,75.2 L30.6,75.1 L32.4,75.0 L34.2,74.9 L36.0,74.8 L37.9,74.7 L39.8,74.5 L41.7,74.4 L43.7,74.3 L45.6,74.2 L47.6,74.1 L49.5,74.0 L51.4,73.9 L53.3,73.8 L55.1,73.7 L56.8,73.6 L58.5,73.5 L60.1,73.5 L61.7,73.4 L63.2,73.3 L64.7,73.1 L66.2,73.0 L67.6,72.9 L69.1,72.7 L70.5,72.6 L71.9,72.4 L73.3,72.3 L74.7,72.1 L76.0,72.0 L77.4,71.8 L78.8,71.7 L80.1,71.6 L81.5,71.5 L82.9,71.4 L84.3,71.4 L85.7,71.3 L87.2,71.3 L88.6,71.3 L90.1,71.3 L91.7,71.4 L93.2,71.5 L94.8,71.6 L96.5,71.8 L98.2,72.0 L100.0,72.2 L101.9,72.5 L103.8,72.7 L105.8,73.1 L107.8,73.4 L109.8,73.8 L111.8,74.1 L113.9,74.6 L115.9,75.0 L117.9,75.4 L120.0,75.8 L122.0,76.3 L124.0,76.7 L125.9,77.2 L127.8,77.7 L129.7,78.1 L131.5,78.6 L133.2,79.0 L134.9,79.5 L136.5,79.9 L138.0,80.3 L139.4,80.7 L140.7,81.1 L141.9,81.5 L143.0,81.9 L144.1,82.3 L145.1,82.7 L146.1,83.1 L147.0,83.5 L147.8,83.8 L148.6,84.2 L149.4,84.6 L150.1,85.0 L150.8,85.4 L151.5,85.8 L152.2,86.3 L152.9,86.7 L153.6,87.1 L154.3,87.5 L155.0,88.0 L155.7,88.4 L156.5,88.9 L157.2,89.3 L158.0,89.8 L158.9,90.3 L159.7,90.8 L160.6,91.2 L161.5,91.7 L162.3,92.2 L163.2,92.6 L164.1,93.1 L164.9,93.6 L165.8,94.1 L166.7,94.6 L167.5,95.0 L168.4,95.5 L169.3,96.0 L170.1,96.5 L171.0,97.0 L171.8,97.5 L172.7,98.1 L173.6,98.6 L174.4,99.1 L175.3,99.6 L176.1,100.2 L177.0,100.7 L177.9,101.3 L178.7,101.9 L179.6,102.4 L180.4,103.0 L181.3,103.6 L182.2,104.3 L183.1,104.9 L184.1,105.7 L185.1,106.4 L186.1,107.2 L187.1,107.9 L188.1,108.7 L189.1,109.4 L190.2,110.2 L191.2,110.9 L192.2,111.6 L193.3,112.4 L194.3,113.1 L195.2,113.7 L196.2,114.4 L197.1,115.0 L197.9,115.6 L198.7,116.2 L199.5,116.7 L200.2,117.1 L200.9,117.5 L201.5,117.9 L201.9,118.3 L202.5,117.7 L202.0,117.3 L201.5,116.8 L201.0,116.3 L200.4,115.6 L199.7,115.0 L199.0,114.3 L198.3,113.5 L197.5,112.7 L196.7,111.9 L195.8,111.1 L195.0,110.3 L194.1,109.4 L193.1,108.6 L192.2,107.7 L191.2,106.8 L190.3,105.9 L189.3,105.1 L188.3,104.3 L187.3,103.5 L186.3,102.8 L185.3,102.0 L184.4,101.3 L183.5,100.6 L182.6,100.0 L181.7,99.4 L180.8,98.8 L179.9,98.2 L179.1,97.6 L178.2,97.0 L177.3,96.4 L176.4,95.9 L175.6,95.3 L174.7,94.8 L173.8,94.2 L173.0,93.7 L172.1,93.2 L171.2,92.7 L170.3,92.2 L169.5,91.7 L168.6,91.1 L167.7,90.6 L166.9,90.2 L166.0,89.7 L165.1,89.2 L164.3,88.7 L163.4,88.2 L162.5,87.7 L161.7,87.2 L160.9,86.8 L160.1,86.3 L159.3,85.9 L158.6,85.4 L157.9,85.0 L157.2,84.5 L156.5,84.1 L155.8,83.6 L155.1,83.2 L154.4,82.7 L153.6,82.3 L152.9,81.9 L152.1,81.4 L151.3,81.0 L150.5,80.5 L149.6,80.1 L148.7,79.7 L147.7,79.2 L146.7,78.8 L145.6,78.4 L144.5,77.9 L143.2,77.5 L142.0,77.1 L140.6,76.7 L139.2,76.3 L137.6,75.8 L136.0,75.4 L134.3,74.9 L132.6,74.4 L130.7,74.0 L128.9,73.5 L126.9,73.0 L125.0,72.6 L122.9,72.1 L120.9,71.6 L118.8,71.2 L116.8,70.8 L114.7,70.3 L112.6,69.9 L110.5,69.6 L108.5,69.2 L106.5,68.8 L104.5,68.5 L102.5,68.2 L100.6,68.0 L98.7,67.7 L96.9,67.6 L95.2,67.4 L93.5,67.3 L91.8,67.2 L90.2,67.2 L88.6,67.1 L87.1,67.2 L85.6,67.3 L84.1,67.4 L82.6,67.5 L81.2,67.6 L79.8,67.8 L78.4,68.0 L77.0,68.2 L75.6,68.4 L74.2,68.6 L72.8,68.8 L71.4,69.0 L70.1,69.2 L68.7,69.4 L67.2,69.6 L65.8,69.8 L64.4,70.0 L62.9,70.2 L61.4,70.4 L59.9,70.5 L58.3,70.7 L56.6,70.9 L54.9,71.0 L53.1,71.2 L51.2,71.4 L49.3,71.6 L47.4,71.7 L45.5,71.9 L43.5,72.1 L41.6,72.3 L39.6,72.5 L37.7,72.7 L35.9,72.8 L34.0,73.0 L32.2,73.2 L30.5,73.4 L28.8,73.5 L27.2,73.7 L25.8,73.8 L24.4,73.9 L23.1,74.1 L21.9,74.2 L20.9,74.3 L20.0,74.3 Z" fill="#3d3a37" fill-opacity="0.9" filter="url(#bl0)"/>
<path d="M20.0,76.5 L20.9,76.5 L22.0,76.4 L23.2,76.4 L24.4,76.3 L25.8,76.2 L27.3,76.2 L28.9,76.1 L30.6,76.0 L32.3,75.9 L34.1,75.8 L36.0,75.8 L37.9,75.7 L39.8,75.6 L41.7,75.5 L43.7,75.4 L45.6,75.3 L47.5,75.2 L49.5,75.1 L51.4,75.0 L53.2,74.8 L55.0,74.7 L56.8,74.6 L58.5,74.5 L60.1,74.4 L61.6,74.3 L63.2,74.2 L64.7,74.0 L66.1,73.9 L67.6,73.7 L69.0,73.5 L70.4,73.3 L71.8,73.1 L73.2,72.9 L74.6,72.7 L76.0,72.5 L77.3,72.3 L78.7,72.1 L80.1,72.0 L81.5,71.8 L82.9,71.7 L84.3,71.6 L85.7,71.5 L87.2,71.5 L88.7,71.4 L90.2,71.4 L91.7,71.5 L93.3,71.6 L94.9,71.7 L96.6,71.9 L98.3,72.1 L100.2,72.3 L102.0,72.6 L104.0,72.9 L105.9,73.2 L107.9,73.5 L109.9,73.9 L112.0,74.3 L114.0,74.7 L116.1,75.2 L118.1,75.6 L120.2,76.1 L122.2,76.6 L124.2,77.1 L126.1,77.6 L128.0,78.1 L129.9,78.6 L131.7,79.1 L133.4,79.7 L135.1,80.2 L136.7,80.8 L138.2,81.3 L139.6,81.8 L140.9,82.3 L142.1,82.9 L143.2,83.5 L144.3,84.0 L145.4,84.6 L146.3,85.2 L147.3,85.8 L148.2,86.4 L149.0,87.0 L149.8,87.7 L150.6,88.3 L151.3,88.9 L152.1,89.6 L152.8,90.3 L153.5,90.9 L154.2,91.6 L154.8,92.3 L155.5,93.0 L156.2,93.7 L156.9,94.4 L157.6,95.1 L158.4,95.8 L159.1,96.5 L159.9,97.2 L160.7,97.9 L161.4,98.6 L162.2,99.3 L162.9,100.1 L163.7,100.8 L164.4,101.6 L165.1,102.3 L165.9,103.1 L166.6,103.9 L167.3,104.7 L168.0,105.5 L168.7,106.2 L169.4,107.0 L170.1,107.8 L170.8,108.6 L171.5,109.3 L172.1,110.1 L172.8,110.8 L173.4,111.5 L174.0,112.2 L174.7,112.9 L175.3,113.5 L175.9,114.1 L176.5,114.7 L177.1,115.2 L177.7,115.8 L178.3,116.3 L178.9,116.8 L179.4,117.4 L180.0,117.9 L180.6,118.3 L181.1,118.8 L181.7,119.3 L182.2,119.7 L182.7,120.2 L183.2,120.6 L183.7,121.0 L184.2,121.4 L184.6,121.7 L185.1,122.1 L185.5,122.4 L185.9,122.7 L186.3,123.0 L186.7,123.3 L187.0,123.5 L187.3,123.8 L187.6,124.0 L187.8,124.2 L188.2,123.8 L188.0,123.6 L187.7,123.3 L187.4,123.0 L187.1,122.7 L186.8,122.4 L186.5,122.0 L186.2,121.6 L185.8,121.3 L185.4,120.8 L185.0,120.4 L184.6,120.0 L184.2,119.5 L183.7,119.1 L183.3,118.6 L182.8,118.1 L182.3,117.6 L181.8,117.1 L181.3,116.5 L180.8,116.0 L180.2,115.4 L179.7,114.9 L179.2,114.3 L178.6,113.7 L178.1,113.1 L177.6,112.5 L177.0,111.9 L176.4,111.2 L175.8,110.6 L175.2,109.9 L174.6,109.2 L173.9,108.5 L173.3,107.7 L172.6,107.0 L171.9,106.2 L171.2,105.4 L170.5,104.6 L169.8,103.9 L169.1,103.1 L168.4,102.3 L167.6,101.5 L166.9,100.7 L166.1,99.9 L165.4,99.1 L164.6,98.4 L163.8,97.6 L163.1,96.8 L162.3,96.1 L161.5,95.4 L160.7,94.7 L160.0,94.0 L159.3,93.4 L158.6,92.7 L157.9,92.0 L157.2,91.3 L156.5,90.6 L155.8,89.9 L155.1,89.2 L154.4,88.5 L153.7,87.8 L152.9,87.1 L152.1,86.5 L151.3,85.8 L150.4,85.1 L149.5,84.4 L148.6,83.8 L147.6,83.2 L146.6,82.5 L145.5,81.9 L144.3,81.3 L143.1,80.7 L141.8,80.1 L140.4,79.6 L139.0,79.0 L137.5,78.5 L135.8,77.9 L134.2,77.4 L132.4,76.8 L130.6,76.3 L128.7,75.8 L126.7,75.3 L124.8,74.7 L122.8,74.2 L120.7,73.7 L118.7,73.3 L116.6,72.8 L114.5,72.4 L112.4,71.9 L110.4,71.5 L108.3,71.2 L106.3,70.8 L104.3,70.5 L102.4,70.2 L100.5,69.9 L98.6,69.7 L96.8,69.5 L95.1,69.3 L93.4,69.2 L91.8,69.1 L90.2,69.0 L88.6,69.0 L87.1,69.1 L85.6,69.1 L84.1,69.2 L82.7,69.4 L81.2,69.5 L79.8,69.7 L78.4,69.9 L77.0,70.1 L75.6,70.3 L74.3,70.5 L72.9,70.8 L71.5,71.0 L70.1,71.2 L68.7,71.5 L67.3,71.7 L65.9,71.9 L64.4,72.1 L63.0,72.3 L61.5,72.4 L59.9,72.6 L58.3,72.7 L56.7,72.8 L54.9,73.0 L53.1,73.1 L51.3,73.2 L49.4,73.4 L47.4,73.5 L45.5,73.7 L43.6,73.8 L41.6,73.9 L39.7,74.1 L37.8,74.2 L35.9,74.4 L34.0,74.5 L32.3,74.6 L30.5,74.7 L28.9,74.8 L27.3,74.9 L25.8,75.1 L24.4,75.2 L23.1,75.2 L21.9,75.3 L20.9,75.4 L20.0,75.5 Z" fill="#5e5955" fill-opacity="0.85" filter="url(#bl0)"/>
<path d="M20.0,77.2 L20.9,77.1 L22.0,77.1 L23.2,77.0 L24.4,77.0 L25.8,76.9 L27.3,76.8 L28.9,76.8 L30.6,76.7 L32.3,76.6 L34.1,76.5 L36.0,76.5 L37.9,76.4 L39.8,76.3 L41.7,76.2 L43.7,76.1 L45.6,76.0 L47.6,76.0 L49.5,75.9 L51.4,75.8 L53.2,75.7 L55.1,75.6 L56.8,75.5 L58.5,75.4 L60.1,75.4 L61.7,75.3 L63.2,75.2 L64.7,75.0 L66.2,74.9 L67.6,74.7 L69.1,74.5 L70.5,74.4 L71.9,74.2 L73.3,74.0 L74.7,73.9 L76.1,73.7 L77.4,73.5 L78.8,73.4 L80.2,73.2 L81.6,73.1 L82.9,73.0 L84.3,72.9 L85.8,72.9 L87.2,72.8 L88.7,72.8 L90.2,72.8 L91.7,72.9 L93.3,73.0 L94.9,73.1 L96.5,73.3 L98.3,73.5 L100.1,73.7 L102.0,74.0 L103.9,74.3 L105.9,74.6 L107.9,74.9 L109.9,75.3 L112.0,75.6 L114.1,76.0 L116.1,76.4 L118.2,76.7 L120.2,77.1 L122.3,77.6 L124.2,78.0 L126.2,78.4 L128.1,78.8 L129.9,79.3 L131.7,79.7 L133.4,80.2 L135.0,80.6 L136.5,81.1 L137.9,81.5 L139.2,82.0 L140.4,82.4 L141.4,82.8 L142.5,83.3 L143.4,83.8 L144.3,84.2 L145.1,84.7 L145.8,85.2 L146.5,85.7 L147.2,86.2 L147.8,86.7 L148.4,87.2 L149.0,87.7 L149.5,88.3 L150.0,88.8 L150.5,89.4 L151.0,89.9 L151.4,90.5 L151.9,91.1 L152.4,91.7 L152.8,92.3 L153.3,92.9 L153.8,93.5 L154.4,94.1 L154.9,94.7 L155.4,95.2 L155.8,95.8 L156.2,96.3 L156.6,96.8 L157.0,97.3 L157.3,97.8 L157.7,98.3 L158.0,98.8 L158.3,99.3 L158.6,99.8 L158.9,100.4 L159.1,100.9 L159.4,101.4 L159.7,102.0 L160.0,102.6 L160.3,103.2 L160.6,103.8 L160.9,104.4 L161.2,105.1 L161.5,105.8 L161.9,106.5 L162.2,107.2 L162.6,107.9 L163.0,108.7 L163.4,109.5 L163.9,110.3 L164.3,111.2 L164.8,112.2 L165.3,113.1 L165.8,114.2 L166.4,115.2 L166.9,116.3 L167.5,117.3 L168.1,118.4 L168.8,119.4 L169.4,120.5 L170.0,121.5 L170.6,122.5 L171.2,123.5 L171.7,124.5 L172.3,125.4 L172.9,126.3 L173.4,127.1 L173.9,127.8 L174.3,128.5 L174.8,129.1 L175.1,129.7 L175.4,130.2 L176.2,129.8 L176.0,129.3 L175.7,128.7 L175.5,127.9 L175.3,127.1 L175.0,126.3 L174.7,125.4 L174.4,124.4 L174.0,123.4 L173.6,122.3 L173.2,121.3 L172.8,120.2 L172.4,119.0 L171.9,117.9 L171.5,116.8 L171.0,115.6 L170.6,114.5 L170.1,113.4 L169.6,112.3 L169.1,111.3 L168.6,110.3 L168.1,109.3 L167.6,108.4 L167.2,107.5 L166.8,106.7 L166.4,106.0 L166.1,105.3 L165.7,104.6 L165.4,103.9 L165.1,103.2 L164.8,102.6 L164.5,101.9 L164.2,101.3 L163.9,100.7 L163.7,100.1 L163.4,99.5 L163.1,98.9 L162.8,98.3 L162.5,97.7 L162.1,97.1 L161.8,96.5 L161.4,95.9 L161.1,95.3 L160.7,94.7 L160.3,94.1 L159.8,93.5 L159.3,92.9 L158.8,92.3 L158.3,91.7 L157.8,91.1 L157.4,90.6 L156.9,90.0 L156.4,89.4 L156.0,88.8 L155.5,88.2 L155.0,87.6 L154.5,87.0 L154.0,86.3 L153.4,85.7 L152.9,85.1 L152.2,84.4 L151.6,83.8 L150.9,83.2 L150.1,82.5 L149.3,81.9 L148.5,81.3 L147.6,80.7 L146.6,80.1 L145.6,79.6 L144.5,79.0 L143.4,78.5 L142.1,77.9 L140.8,77.4 L139.4,77.0 L137.9,76.5 L136.3,76.0 L134.7,75.5 L132.9,75.0 L131.1,74.5 L129.2,74.1 L127.3,73.6 L125.3,73.2 L123.3,72.7 L121.2,72.3 L119.1,71.9 L117.0,71.5 L114.9,71.1 L112.8,70.8 L110.7,70.4 L108.6,70.2 L106.5,69.9 L104.5,69.7 L102.5,69.5 L100.6,69.3 L98.7,69.1 L96.9,69.0 L95.1,68.9 L93.5,68.8 L91.8,68.8 L90.2,68.8 L88.6,68.8 L87.1,68.9 L85.6,69.0 L84.1,69.1 L82.6,69.3 L81.2,69.5 L79.8,69.6 L78.3,69.8 L77.0,70.1 L75.6,70.3 L74.2,70.5 L72.8,70.8 L71.4,71.0 L70.0,71.2 L68.6,71.5 L67.2,71.7 L65.8,71.9 L64.4,72.1 L62.9,72.3 L61.4,72.5 L59.9,72.6 L58.3,72.8 L56.6,72.9 L54.9,73.1 L53.1,73.3 L51.2,73.4 L49.3,73.6 L47.4,73.8 L45.5,73.9 L43.5,74.1 L41.6,74.3 L39.7,74.4 L37.8,74.6 L35.9,74.7 L34.0,74.9 L32.2,75.0 L30.5,75.2 L28.8,75.3 L27.3,75.4 L25.8,75.6 L24.4,75.7 L23.1,75.8 L21.9,75.9 L20.9,76.0 L20.0,76.0 Z" fill="#302d2b" fill-opacity="0.9" filter="url(#bl0)"/>
<path d="M109.8,74.3 L110.4,74.4 L111.1,74.5 L111.9,74.7 L112.7,74.8 L113.6,75.0 L114.6,75.2 L115.6,75.4 L116.7,75.5 L117.8,75.7 L119.0,76.0 L120.2,76.2 L121.4,76.4 L122.6,76.6 L123.9,76.9 L125.1,77.1 L126.3,77.4 L127.5,77.7 L128.7,78.0 L129.8,78.2 L130.9,78.5 L132.0,78.8 L132.9,79.1 L133.9,79.4 L134.7,79.7 L135.5,80.1 L136.3,80.4 L137.1,80.7 L137.8,81.1 L138.5,81.4 L139.2,81.8 L139.9,82.2 L140.5,82.5 L141.2,82.9 L141.8,83.3 L142.4,83.7 L143.0,84.1 L143.6,84.5 L144.1,85.0 L144.7,85.4 L145.2,85.8 L145.8,86.3 L146.3,86.7 L146.8,87.2 L147.4,87.6 L147.9,88.1 L148.4,88.6 L148.9,89.1 L149.4,89.6 L149.9,90.1 L150.4,90.6 L150.9,91.1 L151.4,91.6 L151.8,92.1 L152.3,92.7 L152.7,93.2 L153.1,93.8 L153.6,94.3 L154.0,94.9 L154.4,95.5 L154.8,96.1 L155.2,96.7 L155.6,97.3 L155.9,97.9 L156.3,98.5 L156.7,99.1 L157.1,99.7 L157.4,100.3 L157.8,100.9 L158.2,101.5 L158.6,102.2 L158.9,102.8 L159.3,103.4 L159.7,104.0 L160.1,104.7 L160.4,105.4 L160.8,106.1 L161.2,106.8 L161.6,107.6 L162.0,108.4 L162.4,109.1 L162.8,109.9 L163.2,110.7 L163.5,111.5 L163.9,112.2 L164.3,113.0 L164.7,113.7 L165.0,114.4 L165.4,115.1 L165.8,115.7 L166.1,116.3 L166.5,116.9 L166.8,117.4 L167.1,117.9 L167.4,118.3 L167.6,118.7 L167.8,119.1 L168.2,118.9 L168.0,118.6 L167.9,118.1 L167.7,117.6 L167.5,117.1 L167.3,116.5 L167.1,115.8 L166.9,115.2 L166.6,114.5 L166.3,113.8 L166.0,113.0 L165.7,112.3 L165.3,111.5 L165.0,110.8 L164.6,110.0 L164.2,109.2 L163.8,108.4 L163.4,107.6 L163.0,106.9 L162.6,106.1 L162.2,105.4 L161.9,104.6 L161.5,103.9 L161.1,103.2 L160.7,102.6 L160.3,102.0 L159.9,101.3 L159.6,100.7 L159.2,100.1 L158.8,99.5 L158.4,98.8 L158.1,98.2 L157.7,97.6 L157.3,97.0 L156.9,96.4 L156.5,95.8 L156.1,95.2 L155.7,94.6 L155.3,94.0 L154.8,93.4 L154.4,92.8 L154.0,92.2 L153.5,91.7 L153.1,91.1 L152.6,90.6 L152.1,90.0 L151.6,89.5 L151.1,88.9 L150.6,88.4 L150.0,87.9 L149.5,87.4 L149.0,86.9 L148.4,86.5 L147.9,86.0 L147.4,85.5 L146.8,85.0 L146.2,84.6 L145.7,84.1 L145.1,83.7 L144.5,83.2 L143.9,82.8 L143.3,82.4 L142.6,82.0 L142.0,81.6 L141.3,81.2 L140.6,80.8 L139.9,80.4 L139.2,80.0 L138.5,79.6 L137.7,79.3 L136.9,78.9 L136.1,78.6 L135.3,78.3 L134.4,77.9 L133.4,77.6 L132.4,77.3 L131.3,77.0 L130.2,76.7 L129.1,76.4 L127.9,76.1 L126.7,75.8 L125.4,75.6 L124.2,75.3 L122.9,75.1 L121.7,74.8 L120.5,74.6 L119.3,74.4 L118.1,74.2 L117.0,74.0 L115.9,73.8 L114.9,73.6 L113.9,73.4 L113.0,73.3 L112.1,73.1 L111.4,73.0 L110.7,72.8 L110.2,72.7 Z" fill="#45413e" fill-opacity="0.7" filter="url(#bl0)"/>
<path d="M20.0,80.1 L20.9,80.1 L22.0,80.1 L23.1,80.1 L24.4,80.0 L25.8,80.0 L27.3,79.9 L28.9,79.9 L30.6,79.8 L32.3,79.8 L34.1,79.7 L35.9,79.7 L37.8,79.6 L39.7,79.6 L41.7,79.5 L43.6,79.5 L45.6,79.4 L47.5,79.3 L49.4,79.3 L51.3,79.2 L53.2,79.2 L55.0,79.1 L56.7,79.1 L58.4,79.0 L60.0,78.9 L61.6,78.9 L63.1,78.8 L64.7,78.8 L66.2,78.7 L67.7,78.6 L69.2,78.6 L70.7,78.5 L72.2,78.4 L73.7,78.3 L75.2,78.3 L76.7,78.2 L78.1,78.1 L79.6,78.0 L81.0,78.0 L82.5,77.9 L83.9,77.9 L85.3,77.8 L86.7,77.8 L88.1,77.7 L89.5,77.7 L90.9,77.7 L92.3,77.7 L93.6,77.7 L95.0,77.7 L96.3,77.8 L97.7,77.8 L99.0,77.9 L100.4,77.9 L101.7,78.0 L103.1,78.0 L104.4,78.1 L105.7,78.2 L107.0,78.2 L108.3,78.3 L109.6,78.4 L110.9,78.5 L112.2,78.6 L113.4,78.7 L114.7,78.9 L115.9,79.0 L117.1,79.2 L118.3,79.3 L119.4,79.5 L120.6,79.6 L121.7,79.8 L122.8,80.0 L123.9,80.2 L124.9,80.4 L125.9,80.7 L126.9,80.9 L127.9,81.2 L128.8,81.4 L129.8,81.7 L130.7,82.0 L131.6,82.3 L132.4,82.6 L133.3,82.9 L134.1,83.2 L135.0,83.5 L135.8,83.8 L136.6,84.2 L137.3,84.5 L138.1,84.9 L138.9,85.2 L139.6,85.6 L140.4,86.0 L141.1,86.4 L141.9,86.8 L142.6,87.2 L143.3,87.6 L144.0,88.0 L144.8,88.4 L145.5,88.8 L146.2,89.3 L147.0,89.8 L147.7,90.3 L148.4,90.8 L149.2,91.4 L149.9,91.9 L150.7,92.5 L151.4,93.1 L152.1,93.6 L152.8,94.2 L153.5,94.8 L154.2,95.3 L154.9,95.9 L155.5,96.4 L156.1,96.9 L156.7,97.4 L157.3,97.9 L157.8,98.4 L158.3,98.8 L158.8,99.2 L159.2,99.5 L159.6,99.8 L159.9,100.1 L160.1,99.9 L159.7,99.6 L159.4,99.3 L159.0,98.9 L158.5,98.5 L158.1,98.1 L157.6,97.6 L157.0,97.1 L156.5,96.5 L155.9,96.0 L155.3,95.4 L154.6,94.8 L154.0,94.2 L153.3,93.6 L152.6,93.0 L151.9,92.4 L151.2,91.8 L150.5,91.2 L149.7,90.6 L149.0,90.1 L148.2,89.5 L147.5,89.0 L146.7,88.5 L146.0,88.0 L145.2,87.6 L144.5,87.2 L143.8,86.8 L143.0,86.4 L142.3,86.0 L141.5,85.6 L140.8,85.2 L140.0,84.8 L139.3,84.4 L138.5,84.1 L137.7,83.7 L136.9,83.4 L136.1,83.0 L135.3,82.7 L134.5,82.3 L133.6,82.0 L132.7,81.7 L131.9,81.4 L131.0,81.1 L130.0,80.8 L129.1,80.5 L128.1,80.3 L127.1,80.0 L126.1,79.8 L125.1,79.6 L124.0,79.3 L122.9,79.1 L121.8,78.9 L120.7,78.8 L119.6,78.6 L118.4,78.4 L117.2,78.3 L116.0,78.1 L114.7,78.0 L113.5,77.9 L112.2,77.7 L111.0,77.6 L109.7,77.5 L108.4,77.4 L107.1,77.3 L105.8,77.3 L104.4,77.2 L103.1,77.1 L101.8,77.1 L100.4,77.0 L99.1,77.0 L97.7,76.9 L96.4,76.9 L95.0,76.9 L93.6,76.8 L92.3,76.8 L90.9,76.8 L89.5,76.8 L88.1,76.8 L86.7,76.9 L85.3,76.9 L83.9,77.0 L82.4,77.0 L81.0,77.1 L79.6,77.1 L78.1,77.2 L76.6,77.3 L75.2,77.4 L73.7,77.4 L72.2,77.5 L70.7,77.6 L69.2,77.7 L67.7,77.7 L66.2,77.8 L64.6,77.9 L63.1,77.9 L61.5,78.0 L60.0,78.1 L58.4,78.1 L56.7,78.2 L55.0,78.2 L53.1,78.3 L51.3,78.3 L49.4,78.4 L47.5,78.4 L45.5,78.5 L43.6,78.6 L41.6,78.6 L39.7,78.7 L37.8,78.7 L35.9,78.8 L34.1,78.8 L32.3,78.9 L30.5,78.9 L28.9,79.0 L27.3,79.0 L25.8,79.1 L24.4,79.1 L23.1,79.2 L21.9,79.2 L20.9,79.2 L20.0,79.3 Z" fill="#8c8782" fill-opacity="0.75" filter="url(#bl0)"/>
<path d="M85.1,70.7 L85.4,70.7 L85.8,70.7 L86.2,70.6 L86.7,70.6 L87.3,70.6 L87.8,70.6 L88.4,70.5 L89.1,70.5 L89.7,70.4 L90.4,70.4 L91.1,70.4 L91.8,70.3 L92.5,70.3 L93.3,70.3 L94.0,70.2 L94.7,70.2 L95.4,70.2 L96.2,70.1 L96.9,70.1 L97.5,70.1 L98.2,70.0 L98.8,70.0 L99.4,70.0 L100.0,70.0 L100.6,70.0 L101.1,70.0 L101.7,70.0 L102.2,70.0 L102.7,70.0 L103.2,69.9 L103.7,69.9 L104.2,69.9 L104.7,69.9 L105.2,69.9 L105.6,69.9 L106.1,69.9 L106.6,69.9 L107.1,69.9 L107.5,70.0 L108.0,70.0 L108.5,70.0 L108.9,70.0 L109.4,70.0 L109.9,70.1 L110.4,70.1 L110.9,70.1 L111.4,70.2 L111.9,70.2 L112.4,70.2 L113.0,70.3 L113.5,70.3 L114.1,70.4 L114.7,70.4 L115.3,70.5 L116.0,70.5 L116.6,70.6 L117.2,70.7 L117.9,70.7 L118.5,70.8 L119.1,70.8 L119.7,70.9 L120.3,70.9 L120.9,71.0 L121.5,71.0 L122.0,71.1 L122.5,71.1 L123.0,71.2 L123.5,71.2 L123.9,71.2 L124.3,71.2 L124.7,71.2 L125.0,71.3 L125.0,70.7 L124.8,70.7 L124.4,70.6 L124.0,70.5 L123.6,70.4 L123.2,70.2 L122.7,70.1 L122.2,69.9 L121.7,69.8 L121.2,69.6 L120.6,69.5 L120.0,69.3 L119.4,69.2 L118.8,69.0 L118.2,68.9 L117.5,68.8 L116.9,68.6 L116.3,68.5 L115.6,68.4 L115.0,68.2 L114.4,68.1 L113.8,68.0 L113.2,67.9 L112.7,67.9 L112.1,67.8 L111.6,67.8 L111.1,67.7 L110.6,67.7 L110.0,67.7 L109.5,67.6 L109.1,67.6 L108.6,67.6 L108.1,67.6 L107.6,67.6 L107.1,67.5 L106.6,67.5 L106.1,67.5 L105.6,67.5 L105.2,67.5 L104.7,67.5 L104.2,67.5 L103.7,67.5 L103.2,67.5 L102.7,67.6 L102.1,67.6 L101.6,67.6 L101.1,67.6 L100.5,67.6 L100.0,67.6 L99.4,67.6 L98.8,67.6 L98.1,67.6 L97.5,67.7 L96.8,67.7 L96.1,67.7 L95.3,67.8 L94.6,67.8 L93.9,67.8 L93.1,67.9 L92.4,67.9 L91.7,67.9 L91.0,68.0 L90.3,68.0 L89.6,68.1 L88.9,68.1 L88.3,68.1 L87.7,68.2 L87.1,68.2 L86.6,68.2 L86.1,68.2 L85.7,68.3 L85.3,68.3 L84.9,68.3 Z" fill="#2e2b29" fill-opacity="0.55" filter="url(#bl1)"/>
<path d="M42.0,77.3 L42.2,77.3 L42.4,77.3 L42.6,77.3 L42.9,77.3 L43.2,77.3 L43.5,77.3 L43.8,77.3 L44.1,77.2 L44.5,77.2 L44.8,77.2 L45.2,77.2 L45.6,77.2 L46.0,77.2 L46.4,77.2 L46.7,77.2 L47.1,77.2 L47.5,77.2 L47.9,77.2 L48.3,77.1 L48.7,77.1 L49.0,77.1 L49.4,77.1 L49.7,77.1 L50.0,77.1 L50.3,77.1 L50.7,77.1 L51.0,77.1 L51.3,77.1 L51.7,77.1 L52.0,77.0 L52.4,77.0 L52.7,77.0 L53.0,77.0 L53.4,76.9 L53.7,76.9 L54.0,76.8 L54.3,76.7 L54.7,76.7 L55.0,76.6 L55.2,76.6 L55.5,76.5 L55.8,76.5 L56.0,76.4 L56.3,76.3 L56.5,76.3 L56.7,76.2 L56.9,76.2 L57.0,76.1 L57.0,75.7 L56.8,75.7 L56.7,75.6 L56.5,75.6 L56.2,75.5 L56.0,75.5 L55.8,75.4 L55.5,75.4 L55.2,75.3 L54.9,75.3 L54.6,75.2 L54.3,75.2 L54.0,75.2 L53.6,75.1 L53.3,75.1 L53.0,75.1 L52.6,75.0 L52.3,75.0 L52.0,75.0 L51.6,75.1 L51.3,75.1 L50.9,75.1 L50.6,75.1 L50.3,75.1 L50.0,75.1 L49.7,75.1 L49.3,75.1 L49.0,75.1 L48.6,75.1 L48.2,75.1 L47.9,75.2 L47.5,75.2 L47.1,75.2 L46.7,75.2 L46.3,75.2 L45.9,75.2 L45.5,75.2 L45.2,75.2 L44.8,75.2 L44.4,75.2 L44.1,75.2 L43.8,75.3 L43.4,75.3 L43.1,75.3 L42.9,75.3 L42.6,75.3 L42.4,75.3 L42.2,75.3 L42.0,75.3 Z" fill="#2e2b29" fill-opacity="0.6" filter="url(#bl1)"/>
</g>
</g>
<line x1="57" y1="75.7" x2="219" y2="42" stroke="#000" stroke-width="1"/>
<path d="M223.5,41.1 L215.3,39.2 L216.9,44.6 Z" fill="#000"/>
<line x1="163.3" y1="53.3" x2="173.6" y2="130" stroke="#000" stroke-width="1"/>
<path d="M174,131.5 L171.7,126.5 L175.6,126 Z" fill="#000"/>
<circle cx="174.2" cy="133.8" r="1.7" fill="#000"/>
<circle cx="57.1" cy="75.7" r="1.5" fill="#000"/>
<path d="M175,51.8 C176.4,57 174,65.5 166.6,72" fill="none" stroke="#000" stroke-width="0.95"/>
<path d="M66,81 C100,79.2 133,84 149,97 C158,106 161.5,115 162.3,124" fill="none" stroke="#000" stroke-width="1.1"/>
<path d="M60.8,80.6 L67.2,77.9 L67.2,83.5 Z" fill="#000"/>
<path d="M162.8,128.7 L159.1,123.6 L165.6,123.4 Z" fill="#000"/>
<text x="46.90" y="89.00" font-size="12" text-anchor="start" fill="#000" textLength="10.0" lengthAdjust="spacingAndGlyphs" >O</text>
<text x="117.00" y="98.00" font-size="11" text-anchor="start" fill="#000" font-style="italic" stroke="#000" stroke-width="0.3">l</text>
<text x="120.40" y="100.80" font-size="7.5" text-anchor="start" fill="#000" font-style="italic" stroke="#000" stroke-width="0.3">i</text>
<text x="181.60" y="68.60" font-size="12.5" text-anchor="start" fill="#000" font-style="italic" stroke="#000" stroke-width="0.25">φ</text>
<text x="190.60" y="71.00" font-size="7.5" text-anchor="start" fill="#000" font-style="italic" stroke="#000" stroke-width="0.3">i</text>
<text x="185.80" y="135.60" font-size="11" text-anchor="start" fill="#000" font-style="italic" stroke="#000" stroke-width="0.35">i</text>
<defs><linearGradient id="dome" x1="430" y1="0" x2="562" y2="0" gradientUnits="userSpaceOnUse"><stop offset="0" stop-color="#15abeb"/><stop offset="0.5" stop-color="#58c9f4"/><stop offset="1" stop-color="#8bd9f8"/></linearGradient></defs>
<rect x="280.5" y="115.2" width="391" height="20.5" fill="#fdd468"/>
<rect x="555" y="94.8" width="116.5" height="20.6" fill="#97d7f5"/>
<path d="M430,115.3 C432,80 468,48.5 503,48.3 C532,48.5 552,66 557,84 C559,89 560,92 562,94.8 L562,115.3 Z" fill="url(#dome)"/>
<path d="M287,82.8 L361,82.8 L361,72.6 L382.3,90.2 L361,107.6 L361,97.8 L287,97.8 Z" fill="#0070c0"/>
<path d="M540.8,40 L618,40 L618,30.6 L641,46.2 L618,62.2 L618,52.4 L540.8,52.4 Z" fill="#0070c0"/>
<path d="M441,82.5 A33,33 0 0 1 461.5,115.2" fill="none" stroke="#111" stroke-width="0.9"/>
<path d="M556,83 A36,36 0 0 0 535.7,115.2" fill="none" stroke="#111" stroke-width="0.9"/>
<line x1="489.2" y1="70.7" x2="459.73" y2="83.77" stroke="#111" stroke-width="0.9"/>
<path d="M454.7,86 L458.84,81.76 L460.62,85.78 Z" fill="#111"/>
<line x1="483" y1="84" x2="453.93" y2="96.87" stroke="#111" stroke-width="0.9"/>
<path d="M448.9,99.1 L453.04,94.86 L454.82,98.88 Z" fill="#111"/>
<line x1="480.4" y1="95.3" x2="450.96" y2="107.84" stroke="#111" stroke-width="0.9"/>
<path d="M445.9,110 L450.10,105.82 L451.82,109.87 Z" fill="#111"/>
<line x1="431" y1="118.5" x2="562" y2="118.5" stroke="#111" stroke-width="0.9"/>
<line x1="430.3" y1="116.5" x2="430.3" y2="120.5" stroke="#111" stroke-width="0.9"/>
<line x1="562.8" y1="116.5" x2="562.8" y2="120.5" stroke="#111" stroke-width="0.9"/>
<path d="M431,118.5 L435,117 L435,120 Z" fill="#111"/>
<path d="M562.3,118.5 L558.3,117 L558.3,120 Z" fill="#111"/>
<text x="282.80" y="132.40" font-size="18" text-anchor="start" fill="#000" textLength="82.4" lengthAdjust="spacingAndGlyphs" >Substrate</text>
<text x="297.80" y="69.20" font-size="18" text-anchor="start" fill="#000" textLength="60.4" lengthAdjust="spacingAndGlyphs" >Growth</text>
<text x="474.00" y="41.80" font-size="18" text-anchor="start" fill="#000" textLength="48.9" lengthAdjust="spacingAndGlyphs" >Ridge</text>
<text x="548.20" y="26.90" font-size="18" text-anchor="start" fill="#000" textLength="80.9" lengthAdjust="spacingAndGlyphs" >dewetting</text>
<text x="618.30" y="112.70" font-size="18" text-anchor="start" fill="#000" textLength="34.8" lengthAdjust="spacingAndGlyphs" >Film</text>
<text x="393.60" y="108.60" font-size="18" text-anchor="start" fill="#000" textLength="24" lengthAdjust="spacingAndGlyphs" >CL</text>
<text x="417.40" y="113.30" font-size="12.5" text-anchor="start" fill="#000" >A</text>
<text x="554.80" y="81.00" font-size="18" text-anchor="start" fill="#000" textLength="21.8" lengthAdjust="spacingAndGlyphs" >CL</text>
<text x="576.60" y="86.50" font-size="12.5" text-anchor="start" fill="#000" >B</text>
<text x="493.50" y="92.50" font-size="19" text-anchor="start" fill="#000" font-style="italic" >θ</text>
<text x="489.80" y="135.20" font-size="19" text-anchor="start" fill="#000" font-style="italic" >L</text>
<rect x="37.1" y="158.6" width="191.1" height="153.6" fill="none" stroke="#000" stroke-width="1.4"/>
<line x1="43.60" y1="312.2" x2="43.60" y2="315.70" stroke="#000" stroke-width="1"/>
<text x="43.60" y="326.00" font-size="9.7" text-anchor="middle" fill="#000" textLength="5.29" lengthAdjust="spacingAndGlyphs" >0</text>
<line x1="54.57" y1="312.2" x2="54.57" y2="314.50" stroke="#000" stroke-width="1"/>
<line x1="65.54" y1="312.2" x2="65.54" y2="315.70" stroke="#000" stroke-width="1"/>
<text x="65.54" y="326.00" font-size="9.7" text-anchor="middle" fill="#000" textLength="5.29" lengthAdjust="spacingAndGlyphs" >2</text>
<line x1="76.51" y1="312.2" x2="76.51" y2="314.50" stroke="#000" stroke-width="1"/>
<line x1="87.48" y1="312.2" x2="87.48" y2="315.70" stroke="#000" stroke-width="1"/>
<text x="87.48" y="326.00" font-size="9.7" text-anchor="middle" fill="#000" textLength="5.29" lengthAdjust="spacingAndGlyphs" >4</text>
<line x1="98.45" y1="312.2" x2="98.45" y2="314.50" stroke="#000" stroke-width="1"/>
<line x1="109.42" y1="312.2" x2="109.42" y2="315.70" stroke="#000" stroke-width="1"/>
<text x="109.42" y="326.00" font-size="9.7" text-anchor="middle" fill="#000" textLength="5.29" lengthAdjust="spacingAndGlyphs" >6</text>
<line x1="120.39" y1="312.2" x2="120.39" y2="314.50" stroke="#000" stroke-width="1"/>
<line x1="131.36" y1="312.2" x2="131.36" y2="315.70" stroke="#000" stroke-width="1"/>
<text x="131.36" y="326.00" font-size="9.7" text-anchor="middle" fill="#000" textLength="5.29" lengthAdjust="spacingAndGlyphs" >8</text>
<line x1="142.33" y1="312.2" x2="142.33" y2="314.50" stroke="#000" stroke-width="1"/>
<line x1="153.30" y1="312.2" x2="153.30" y2="315.70" stroke="#000" stroke-width="1"/>
<text x="153.30" y="326.00" font-size="9.7" text-anchor="middle" fill="#000" textLength="10.57" lengthAdjust="spacingAndGlyphs" >10</text>
<line x1="164.27" y1="312.2" x2="164.27" y2="314.50" stroke="#000" stroke-width="1"/>
<line x1="175.24" y1="312.2" x2="175.24" y2="315.70" stroke="#000" stroke-width="1"/>
<text x="175.24" y="326.00" font-size="9.7" text-anchor="middle" fill="#000" textLength="10.57" lengthAdjust="spacingAndGlyphs" >12</text>
<line x1="186.21" y1="312.2" x2="186.21" y2="314.50" stroke="#000" stroke-width="1"/>
<line x1="197.18" y1="312.2" x2="197.18" y2="315.70" stroke="#000" stroke-width="1"/>
<text x="197.18" y="326.00" font-size="9.7" text-anchor="middle" fill="#000" textLength="10.57" lengthAdjust="spacingAndGlyphs" >14</text>
<line x1="208.15" y1="312.2" x2="208.15" y2="314.50" stroke="#000" stroke-width="1"/>
<line x1="219.12" y1="312.2" x2="219.12" y2="315.70" stroke="#000" stroke-width="1"/>
<text x="219.12" y="326.00" font-size="9.7" text-anchor="middle" fill="#000" textLength="10.57" lengthAdjust="spacingAndGlyphs" >16</text>
<line x1="33.60" y1="307.70" x2="37.1" y2="307.70" stroke="#000" stroke-width="1"/>
<text x="32.30" y="311.20" font-size="9.7" text-anchor="end" fill="#000" textLength="5.29" lengthAdjust="spacingAndGlyphs" >0</text>
<line x1="34.80" y1="292.80" x2="37.1" y2="292.80" stroke="#000" stroke-width="1"/>
<line x1="33.60" y1="277.90" x2="37.1" y2="277.90" stroke="#000" stroke-width="1"/>
<text x="32.30" y="281.40" font-size="9.7" text-anchor="end" fill="#000" textLength="10.57" lengthAdjust="spacingAndGlyphs" >10</text>
<line x1="34.80" y1="263.00" x2="37.1" y2="263.00" stroke="#000" stroke-width="1"/>
<line x1="33.60" y1="248.10" x2="37.1" y2="248.10" stroke="#000" stroke-width="1"/>
<text x="32.30" y="251.60" font-size="9.7" text-anchor="end" fill="#000" textLength="10.57" lengthAdjust="spacingAndGlyphs" >20</text>
<line x1="34.80" y1="233.20" x2="37.1" y2="233.20" stroke="#000" stroke-width="1"/>
<line x1="33.60" y1="218.30" x2="37.1" y2="218.30" stroke="#000" stroke-width="1"/>
<text x="32.30" y="221.80" font-size="9.7" text-anchor="end" fill="#000" textLength="10.57" lengthAdjust="spacingAndGlyphs" >30</text>
<line x1="34.80" y1="203.40" x2="37.1" y2="203.40" stroke="#000" stroke-width="1"/>
<line x1="33.60" y1="188.50" x2="37.1" y2="188.50" stroke="#000" stroke-width="1"/>
<text x="32.30" y="192.00" font-size="9.7" text-anchor="end" fill="#000" textLength="10.57" lengthAdjust="spacingAndGlyphs" >40</text>
<line x1="34.80" y1="173.60" x2="37.1" y2="173.60" stroke="#000" stroke-width="1"/>
<line x1="33.60" y1="158.70" x2="37.1" y2="158.70" stroke="#000" stroke-width="1"/>
<text x="32.30" y="162.20" font-size="9.7" text-anchor="end" fill="#000" textLength="10.57" lengthAdjust="spacingAndGlyphs" >50</text>
<text x="133.3" y="336.0" font-size="10" text-anchor="middle"><tspan font-style="italic">t</tspan> (s)</text>
<text transform="translate(19.9,235.4) rotate(-90)" font-size="10" text-anchor="middle"><tspan font-style="italic">l</tspan> (μm)</text>
<rect x="44.72" y="167.22" width="3.96" height="3.96" fill="#000000"/>
<text x="58.00" y="172.10" font-size="8.4" text-anchor="start" fill="#000" textLength="37.3" lengthAdjust="spacingAndGlyphs" >0.003 g/ml</text>
<circle cx="46.70" cy="179.00" r="2.31" fill="#ff0000"/>
<text x="58.00" y="181.90" font-size="8.4" text-anchor="start" fill="#000" textLength="37.3" lengthAdjust="spacingAndGlyphs" >0.005 g/ml</text>
<path d="M46.70,186.38 L49.12,190.56 L44.28,190.56 Z" fill="#0000ff"/>
<text x="58.00" y="191.70" font-size="8.4" text-anchor="start" fill="#000" textLength="37.3" lengthAdjust="spacingAndGlyphs" >0.010 g/ml</text>
<path d="M46.70,201.02 L49.12,196.84 L44.28,196.84 Z" fill="#008000"/>
<text x="58.00" y="201.50" font-size="8.4" text-anchor="start" fill="#000" textLength="37.3" lengthAdjust="spacingAndGlyphs" >0.020 g/ml</text>
<path d="M46.70,205.76 L49.34,208.40 L46.70,211.04 L44.06,208.40 Z" fill="#8000ff"/>
<text x="58.00" y="211.30" font-size="8.4" text-anchor="start" fill="#000" textLength="37.3" lengthAdjust="spacingAndGlyphs" >0.030 g/ml</text>
<path d="M44.28,218.20 L48.46,215.78 L48.46,220.62 Z" fill="#ff8000"/>
<text x="58.00" y="221.10" font-size="8.4" text-anchor="start" fill="#000" textLength="37.3" lengthAdjust="spacingAndGlyphs" >0.040 g/ml</text>
<path d="M49.12,228.00 L44.94,225.58 L44.94,230.42 Z" fill="#800000"/>
<text x="58.00" y="230.90" font-size="8.4" text-anchor="start" fill="#000" textLength="37.3" lengthAdjust="spacingAndGlyphs" >0.070 g/ml</text>
<circle cx="46.70" cy="237.80" r="2.31" fill="#4cb8f2"/>
<text x="58.00" y="240.70" font-size="8.4" text-anchor="start" fill="#000" textLength="37.3" lengthAdjust="spacingAndGlyphs" >0.100 g/ml</text>
<rect x="41.98" y="306.08" width="3.24" height="3.24" fill="#000000"/>
<circle cx="43.60" cy="307.70" r="1.89" fill="#ff0000"/>
<path d="M43.60,305.72 L45.58,309.14 L41.62,309.14 Z" fill="#0000ff"/>
<path d="M43.60,309.68 L45.58,306.26 L41.62,306.26 Z" fill="#008000"/>
<path d="M43.60,305.54 L45.76,307.70 L43.60,309.86 L41.44,307.70 Z" fill="#8000ff"/>
<path d="M41.62,307.70 L45.04,305.72 L45.04,309.68 Z" fill="#ff8000"/>
<path d="M45.58,307.70 L42.16,305.72 L42.16,309.68 Z" fill="#800000"/>
<circle cx="43.60" cy="307.70" r="1.89" fill="#4cb8f2"/>
<circle cx="43.60" cy="307.70" r="2.6" fill="#6a8fb0"/>
<circle cx="43.60" cy="307.70" r="2.2" fill="#4cb8f2"/>
<line x1="65.54" y1="298.76" x2="65.54" y2="294.59" stroke="#000000" stroke-width="0.8"/>
<line x1="64.04" y1="298.76" x2="67.04" y2="298.76" stroke="#000000" stroke-width="0.8"/>
<line x1="64.04" y1="294.59" x2="67.04" y2="294.59" stroke="#000000" stroke-width="0.8"/>
<rect x="63.70" y="294.83" width="3.69" height="3.69" fill="#000000"/>
<line x1="65.54" y1="297.27" x2="65.54" y2="293.10" stroke="#0000ff" stroke-width="0.8"/>
<line x1="64.04" y1="297.27" x2="67.04" y2="297.27" stroke="#0000ff" stroke-width="0.8"/>
<line x1="64.04" y1="293.10" x2="67.04" y2="293.10" stroke="#0000ff" stroke-width="0.8"/>
<path d="M65.54,292.93 L67.80,296.82 L63.29,296.82 Z" fill="#0000ff"/>
<line x1="65.54" y1="296.67" x2="65.54" y2="292.50" stroke="#008000" stroke-width="0.8"/>
<line x1="64.04" y1="296.67" x2="67.04" y2="296.67" stroke="#008000" stroke-width="0.8"/>
<line x1="64.04" y1="292.50" x2="67.04" y2="292.50" stroke="#008000" stroke-width="0.8"/>
<path d="M65.54,296.84 L67.80,292.95 L63.29,292.95 Z" fill="#008000"/>
<line x1="65.54" y1="294.89" x2="65.54" y2="290.71" stroke="#8000ff" stroke-width="0.8"/>
<line x1="64.04" y1="294.89" x2="67.04" y2="294.89" stroke="#8000ff" stroke-width="0.8"/>
<line x1="64.04" y1="290.71" x2="67.04" y2="290.71" stroke="#8000ff" stroke-width="0.8"/>
<path d="M65.54,290.34 L68.00,292.80 L65.54,295.26 L63.08,292.80 Z" fill="#8000ff"/>
<line x1="65.54" y1="291.91" x2="65.54" y2="285.95" stroke="#ff8000" stroke-width="0.8"/>
<line x1="64.04" y1="291.91" x2="67.04" y2="291.91" stroke="#ff8000" stroke-width="0.8"/>
<line x1="64.04" y1="285.95" x2="67.04" y2="285.95" stroke="#ff8000" stroke-width="0.8"/>
<path d="M63.29,288.93 L67.18,286.67 L67.18,291.18 Z" fill="#ff8000"/>
<line x1="65.54" y1="291.91" x2="65.54" y2="287.73" stroke="#800000" stroke-width="0.8"/>
<line x1="64.04" y1="291.91" x2="67.04" y2="291.91" stroke="#800000" stroke-width="0.8"/>
<line x1="64.04" y1="287.73" x2="67.04" y2="287.73" stroke="#800000" stroke-width="0.8"/>
<path d="M67.80,289.82 L63.90,287.56 L63.90,292.07 Z" fill="#800000"/>
<line x1="65.54" y1="293.40" x2="65.54" y2="286.84" stroke="#4cb8f2" stroke-width="0.8"/>
<line x1="64.04" y1="293.40" x2="67.04" y2="293.40" stroke="#4cb8f2" stroke-width="0.8"/>
<line x1="64.04" y1="286.84" x2="67.04" y2="286.84" stroke="#4cb8f2" stroke-width="0.8"/>
<circle cx="65.54" cy="290.12" r="2.15" fill="#4cb8f2"/>
<line x1="76.51" y1="292.80" x2="76.51" y2="288.63" stroke="#ff0000" stroke-width="0.8"/>
<line x1="75.01" y1="292.80" x2="78.01" y2="292.80" stroke="#ff0000" stroke-width="0.8"/>
<line x1="75.01" y1="288.63" x2="78.01" y2="288.63" stroke="#ff0000" stroke-width="0.8"/>
<circle cx="76.51" cy="290.71" r="2.15" fill="#ff0000"/>
<line x1="87.48" y1="288.93" x2="87.48" y2="284.75" stroke="#000000" stroke-width="0.8"/>
<line x1="85.98" y1="288.93" x2="88.98" y2="288.93" stroke="#000000" stroke-width="0.8"/>
<line x1="85.98" y1="284.75" x2="88.98" y2="284.75" stroke="#000000" stroke-width="0.8"/>
<rect x="85.64" y="284.99" width="3.69" height="3.69" fill="#000000"/>
<line x1="87.48" y1="283.56" x2="87.48" y2="279.39" stroke="#0000ff" stroke-width="0.8"/>
<line x1="85.98" y1="283.56" x2="88.98" y2="283.56" stroke="#0000ff" stroke-width="0.8"/>
<line x1="85.98" y1="279.39" x2="88.98" y2="279.39" stroke="#0000ff" stroke-width="0.8"/>
<path d="M87.48,279.22 L89.73,283.12 L85.23,283.12 Z" fill="#0000ff"/>
<line x1="87.48" y1="281.77" x2="87.48" y2="277.60" stroke="#008000" stroke-width="0.8"/>
<line x1="85.98" y1="281.77" x2="88.98" y2="281.77" stroke="#008000" stroke-width="0.8"/>
<line x1="85.98" y1="277.60" x2="88.98" y2="277.60" stroke="#008000" stroke-width="0.8"/>
<path d="M87.48,281.94 L89.73,278.05 L85.23,278.05 Z" fill="#008000"/>
<line x1="87.48" y1="279.09" x2="87.48" y2="274.92" stroke="#8000ff" stroke-width="0.8"/>
<line x1="85.98" y1="279.09" x2="88.98" y2="279.09" stroke="#8000ff" stroke-width="0.8"/>
<line x1="85.98" y1="274.92" x2="88.98" y2="274.92" stroke="#8000ff" stroke-width="0.8"/>
<path d="M87.48,274.55 L89.94,277.01 L87.48,279.47 L85.02,277.01 Z" fill="#8000ff"/>
<line x1="87.48" y1="272.54" x2="87.48" y2="266.58" stroke="#ff8000" stroke-width="0.8"/>
<line x1="85.98" y1="272.54" x2="88.98" y2="272.54" stroke="#ff8000" stroke-width="0.8"/>
<line x1="85.98" y1="266.58" x2="88.98" y2="266.58" stroke="#ff8000" stroke-width="0.8"/>
<path d="M85.23,269.56 L89.12,267.30 L89.12,271.81 Z" fill="#ff8000"/>
<line x1="87.48" y1="273.43" x2="87.48" y2="269.26" stroke="#800000" stroke-width="0.8"/>
<line x1="85.98" y1="273.43" x2="88.98" y2="273.43" stroke="#800000" stroke-width="0.8"/>
<line x1="85.98" y1="269.26" x2="88.98" y2="269.26" stroke="#800000" stroke-width="0.8"/>
<path d="M89.73,271.34 L85.84,269.09 L85.84,273.60 Z" fill="#800000"/>
<line x1="87.48" y1="274.92" x2="87.48" y2="268.36" stroke="#4cb8f2" stroke-width="0.8"/>
<line x1="85.98" y1="274.92" x2="88.98" y2="274.92" stroke="#4cb8f2" stroke-width="0.8"/>
<line x1="85.98" y1="268.36" x2="88.98" y2="268.36" stroke="#4cb8f2" stroke-width="0.8"/>
<circle cx="87.48" cy="271.64" r="2.15" fill="#4cb8f2"/>
<line x1="109.42" y1="278.20" x2="109.42" y2="274.03" stroke="#000000" stroke-width="0.8"/>
<line x1="107.92" y1="278.20" x2="110.92" y2="278.20" stroke="#000000" stroke-width="0.8"/>
<line x1="107.92" y1="274.03" x2="110.92" y2="274.03" stroke="#000000" stroke-width="0.8"/>
<rect x="107.58" y="274.27" width="3.69" height="3.69" fill="#000000"/>
<line x1="109.42" y1="274.92" x2="109.42" y2="270.75" stroke="#ff0000" stroke-width="0.8"/>
<line x1="107.92" y1="274.92" x2="110.92" y2="274.92" stroke="#ff0000" stroke-width="0.8"/>
<line x1="107.92" y1="270.75" x2="110.92" y2="270.75" stroke="#ff0000" stroke-width="0.8"/>
<circle cx="109.42" cy="272.83" r="2.15" fill="#ff0000"/>
<line x1="109.42" y1="271.64" x2="109.42" y2="267.47" stroke="#0000ff" stroke-width="0.8"/>
<line x1="107.92" y1="271.64" x2="110.92" y2="271.64" stroke="#0000ff" stroke-width="0.8"/>
<line x1="107.92" y1="267.47" x2="110.92" y2="267.47" stroke="#0000ff" stroke-width="0.8"/>
<path d="M109.42,267.30 L111.68,271.20 L107.17,271.20 Z" fill="#0000ff"/>
<line x1="109.42" y1="267.47" x2="109.42" y2="263.30" stroke="#008000" stroke-width="0.8"/>
<line x1="107.92" y1="267.47" x2="110.92" y2="267.47" stroke="#008000" stroke-width="0.8"/>
<line x1="107.92" y1="263.30" x2="110.92" y2="263.30" stroke="#008000" stroke-width="0.8"/>
<path d="M109.42,267.64 L111.68,263.74 L107.17,263.74 Z" fill="#008000"/>
<line x1="109.42" y1="264.19" x2="109.42" y2="260.02" stroke="#8000ff" stroke-width="0.8"/>
<line x1="107.92" y1="264.19" x2="110.92" y2="264.19" stroke="#8000ff" stroke-width="0.8"/>
<line x1="107.92" y1="260.02" x2="110.92" y2="260.02" stroke="#8000ff" stroke-width="0.8"/>
<path d="M109.42,259.65 L111.88,262.11 L109.42,264.57 L106.96,262.11 Z" fill="#8000ff"/>
<line x1="109.42" y1="253.46" x2="109.42" y2="247.50" stroke="#ff8000" stroke-width="0.8"/>
<line x1="107.92" y1="253.46" x2="110.92" y2="253.46" stroke="#ff8000" stroke-width="0.8"/>
<line x1="107.92" y1="247.50" x2="110.92" y2="247.50" stroke="#ff8000" stroke-width="0.8"/>
<path d="M107.17,250.48 L111.06,248.23 L111.06,252.74 Z" fill="#ff8000"/>
<line x1="109.42" y1="256.15" x2="109.42" y2="251.97" stroke="#800000" stroke-width="0.8"/>
<line x1="107.92" y1="256.15" x2="110.92" y2="256.15" stroke="#800000" stroke-width="0.8"/>
<line x1="107.92" y1="251.97" x2="110.92" y2="251.97" stroke="#800000" stroke-width="0.8"/>
<path d="M111.68,254.06 L107.78,251.81 L107.78,256.31 Z" fill="#800000"/>
<line x1="109.42" y1="256.44" x2="109.42" y2="249.89" stroke="#4cb8f2" stroke-width="0.8"/>
<line x1="107.92" y1="256.44" x2="110.92" y2="256.44" stroke="#4cb8f2" stroke-width="0.8"/>
<line x1="107.92" y1="249.89" x2="110.92" y2="249.89" stroke="#4cb8f2" stroke-width="0.8"/>
<circle cx="109.42" cy="253.17" r="2.15" fill="#4cb8f2"/>
<line x1="131.36" y1="266.28" x2="131.36" y2="262.11" stroke="#000000" stroke-width="0.8"/>
<line x1="129.86" y1="266.28" x2="132.86" y2="266.28" stroke="#000000" stroke-width="0.8"/>
<line x1="129.86" y1="262.11" x2="132.86" y2="262.11" stroke="#000000" stroke-width="0.8"/>
<rect x="129.52" y="262.35" width="3.69" height="3.69" fill="#000000"/>
<line x1="131.36" y1="257.34" x2="131.36" y2="253.17" stroke="#0000ff" stroke-width="0.8"/>
<line x1="129.86" y1="257.34" x2="132.86" y2="257.34" stroke="#0000ff" stroke-width="0.8"/>
<line x1="129.86" y1="253.17" x2="132.86" y2="253.17" stroke="#0000ff" stroke-width="0.8"/>
<path d="M131.36,253.00 L133.62,256.89 L129.11,256.89 Z" fill="#0000ff"/>
<line x1="131.36" y1="253.46" x2="131.36" y2="249.29" stroke="#008000" stroke-width="0.8"/>
<line x1="129.86" y1="253.46" x2="132.86" y2="253.46" stroke="#008000" stroke-width="0.8"/>
<line x1="129.86" y1="249.29" x2="132.86" y2="249.29" stroke="#008000" stroke-width="0.8"/>
<path d="M131.36,253.63 L133.62,249.74 L129.11,249.74 Z" fill="#008000"/>
<line x1="131.36" y1="248.10" x2="131.36" y2="243.93" stroke="#8000ff" stroke-width="0.8"/>
<line x1="129.86" y1="248.10" x2="132.86" y2="248.10" stroke="#8000ff" stroke-width="0.8"/>
<line x1="129.86" y1="243.93" x2="132.86" y2="243.93" stroke="#8000ff" stroke-width="0.8"/>
<path d="M131.36,243.55 L133.82,246.01 L131.36,248.47 L128.90,246.01 Z" fill="#8000ff"/>
<line x1="131.36" y1="238.56" x2="131.36" y2="232.60" stroke="#ff8000" stroke-width="0.8"/>
<line x1="129.86" y1="238.56" x2="132.86" y2="238.56" stroke="#ff8000" stroke-width="0.8"/>
<line x1="129.86" y1="232.60" x2="132.86" y2="232.60" stroke="#ff8000" stroke-width="0.8"/>
<path d="M129.11,235.58 L133.00,233.33 L133.00,237.84 Z" fill="#ff8000"/>
<line x1="131.36" y1="240.05" x2="131.36" y2="235.88" stroke="#800000" stroke-width="0.8"/>
<line x1="129.86" y1="240.05" x2="132.86" y2="240.05" stroke="#800000" stroke-width="0.8"/>
<line x1="129.86" y1="235.88" x2="132.86" y2="235.88" stroke="#800000" stroke-width="0.8"/>
<path d="M133.62,237.97 L129.72,235.71 L129.72,240.22 Z" fill="#800000"/>
<line x1="131.36" y1="240.65" x2="131.36" y2="234.09" stroke="#4cb8f2" stroke-width="0.8"/>
<line x1="129.86" y1="240.65" x2="132.86" y2="240.65" stroke="#4cb8f2" stroke-width="0.8"/>
<line x1="129.86" y1="234.09" x2="132.86" y2="234.09" stroke="#4cb8f2" stroke-width="0.8"/>
<circle cx="131.36" cy="237.37" r="2.15" fill="#4cb8f2"/>
<line x1="142.33" y1="257.93" x2="142.33" y2="253.76" stroke="#ff0000" stroke-width="0.8"/>
<line x1="140.83" y1="257.93" x2="143.83" y2="257.93" stroke="#ff0000" stroke-width="0.8"/>
<line x1="140.83" y1="253.76" x2="143.83" y2="253.76" stroke="#ff0000" stroke-width="0.8"/>
<circle cx="142.33" cy="255.85" r="2.15" fill="#ff0000"/>
<line x1="153.30" y1="256.44" x2="153.30" y2="250.48" stroke="#000000" stroke-width="0.8"/>
<line x1="151.80" y1="256.44" x2="154.80" y2="256.44" stroke="#000000" stroke-width="0.8"/>
<line x1="151.80" y1="250.48" x2="154.80" y2="250.48" stroke="#000000" stroke-width="0.8"/>
<rect x="151.46" y="251.62" width="3.69" height="3.69" fill="#000000"/>
<line x1="153.30" y1="247.21" x2="153.30" y2="240.05" stroke="#0000ff" stroke-width="0.8"/>
<line x1="151.80" y1="247.21" x2="154.80" y2="247.21" stroke="#0000ff" stroke-width="0.8"/>
<line x1="151.80" y1="240.05" x2="154.80" y2="240.05" stroke="#0000ff" stroke-width="0.8"/>
<path d="M153.30,241.38 L155.56,245.27 L151.05,245.27 Z" fill="#0000ff"/>
<line x1="153.30" y1="236.78" x2="153.30" y2="232.60" stroke="#008000" stroke-width="0.8"/>
<line x1="151.80" y1="236.78" x2="154.80" y2="236.78" stroke="#008000" stroke-width="0.8"/>
<line x1="151.80" y1="232.60" x2="154.80" y2="232.60" stroke="#008000" stroke-width="0.8"/>
<path d="M153.30,236.94 L155.56,233.05 L151.05,233.05 Z" fill="#008000"/>
<line x1="153.30" y1="232.60" x2="153.30" y2="228.43" stroke="#8000ff" stroke-width="0.8"/>
<line x1="151.80" y1="232.60" x2="154.80" y2="232.60" stroke="#8000ff" stroke-width="0.8"/>
<line x1="151.80" y1="228.43" x2="154.80" y2="228.43" stroke="#8000ff" stroke-width="0.8"/>
<path d="M153.30,228.06 L155.76,230.52 L153.30,232.98 L150.84,230.52 Z" fill="#8000ff"/>
<line x1="153.30" y1="221.88" x2="153.30" y2="215.92" stroke="#ff8000" stroke-width="0.8"/>
<line x1="151.80" y1="221.88" x2="154.80" y2="221.88" stroke="#ff8000" stroke-width="0.8"/>
<line x1="151.80" y1="215.92" x2="154.80" y2="215.92" stroke="#ff8000" stroke-width="0.8"/>
<path d="M151.05,218.90 L154.94,216.64 L154.94,221.15 Z" fill="#ff8000"/>
<line x1="153.30" y1="223.37" x2="153.30" y2="219.19" stroke="#800000" stroke-width="0.8"/>
<line x1="151.80" y1="223.37" x2="154.80" y2="223.37" stroke="#800000" stroke-width="0.8"/>
<line x1="151.80" y1="219.19" x2="154.80" y2="219.19" stroke="#800000" stroke-width="0.8"/>
<path d="M155.56,221.28 L151.66,219.02 L151.66,223.53 Z" fill="#800000"/>
<line x1="153.30" y1="223.37" x2="153.30" y2="216.81" stroke="#4cb8f2" stroke-width="0.8"/>
<line x1="151.80" y1="223.37" x2="154.80" y2="223.37" stroke="#4cb8f2" stroke-width="0.8"/>
<line x1="151.80" y1="216.81" x2="154.80" y2="216.81" stroke="#4cb8f2" stroke-width="0.8"/>
<circle cx="153.30" cy="220.09" r="2.15" fill="#4cb8f2"/>
<line x1="175.24" y1="247.21" x2="175.24" y2="238.27" stroke="#000000" stroke-width="0.8"/>
<line x1="173.74" y1="247.21" x2="176.74" y2="247.21" stroke="#000000" stroke-width="0.8"/>
<line x1="173.74" y1="238.27" x2="176.74" y2="238.27" stroke="#000000" stroke-width="0.8"/>
<rect x="173.40" y="240.89" width="3.69" height="3.69" fill="#000000"/>
<line x1="175.24" y1="240.65" x2="175.24" y2="236.48" stroke="#ff0000" stroke-width="0.8"/>
<line x1="173.74" y1="240.65" x2="176.74" y2="240.65" stroke="#ff0000" stroke-width="0.8"/>
<line x1="173.74" y1="236.48" x2="176.74" y2="236.48" stroke="#ff0000" stroke-width="0.8"/>
<circle cx="175.24" cy="238.56" r="2.15" fill="#ff0000"/>
<line x1="175.24" y1="235.29" x2="175.24" y2="223.37" stroke="#0000ff" stroke-width="0.8"/>
<line x1="173.74" y1="235.29" x2="176.74" y2="235.29" stroke="#0000ff" stroke-width="0.8"/>
<line x1="173.74" y1="223.37" x2="176.74" y2="223.37" stroke="#0000ff" stroke-width="0.8"/>
<path d="M175.24,227.07 L177.50,230.97 L172.99,230.97 Z" fill="#0000ff"/>
<line x1="175.24" y1="221.58" x2="175.24" y2="217.41" stroke="#008000" stroke-width="0.8"/>
<line x1="173.74" y1="221.58" x2="176.74" y2="221.58" stroke="#008000" stroke-width="0.8"/>
<line x1="173.74" y1="217.41" x2="176.74" y2="217.41" stroke="#008000" stroke-width="0.8"/>
<path d="M175.24,221.75 L177.50,217.85 L172.99,217.85 Z" fill="#008000"/>
<line x1="175.24" y1="216.51" x2="175.24" y2="212.34" stroke="#8000ff" stroke-width="0.8"/>
<line x1="173.74" y1="216.51" x2="176.74" y2="216.51" stroke="#8000ff" stroke-width="0.8"/>
<line x1="173.74" y1="212.34" x2="176.74" y2="212.34" stroke="#8000ff" stroke-width="0.8"/>
<path d="M175.24,211.97 L177.70,214.43 L175.24,216.89 L172.78,214.43 Z" fill="#8000ff"/>
<line x1="175.24" y1="205.49" x2="175.24" y2="199.53" stroke="#ff8000" stroke-width="0.8"/>
<line x1="173.74" y1="205.49" x2="176.74" y2="205.49" stroke="#ff8000" stroke-width="0.8"/>
<line x1="173.74" y1="199.53" x2="176.74" y2="199.53" stroke="#ff8000" stroke-width="0.8"/>
<path d="M172.99,202.51 L176.88,200.25 L176.88,204.76 Z" fill="#ff8000"/>
<line x1="175.24" y1="206.68" x2="175.24" y2="202.51" stroke="#800000" stroke-width="0.8"/>
<line x1="173.74" y1="206.68" x2="176.74" y2="206.68" stroke="#800000" stroke-width="0.8"/>
<line x1="173.74" y1="202.51" x2="176.74" y2="202.51" stroke="#800000" stroke-width="0.8"/>
<path d="M177.50,204.59 L173.60,202.34 L173.60,206.85 Z" fill="#800000"/>
<line x1="175.24" y1="206.08" x2="175.24" y2="199.53" stroke="#4cb8f2" stroke-width="0.8"/>
<line x1="173.74" y1="206.08" x2="176.74" y2="206.08" stroke="#4cb8f2" stroke-width="0.8"/>
<line x1="173.74" y1="199.53" x2="176.74" y2="199.53" stroke="#4cb8f2" stroke-width="0.8"/>
<circle cx="175.24" cy="202.80" r="2.15" fill="#4cb8f2"/>
<line x1="197.18" y1="236.48" x2="197.18" y2="227.54" stroke="#000000" stroke-width="0.8"/>
<line x1="195.68" y1="236.48" x2="198.68" y2="236.48" stroke="#000000" stroke-width="0.8"/>
<line x1="195.68" y1="227.54" x2="198.68" y2="227.54" stroke="#000000" stroke-width="0.8"/>
<rect x="195.34" y="230.16" width="3.69" height="3.69" fill="#000000"/>
<line x1="197.18" y1="222.77" x2="197.18" y2="210.85" stroke="#0000ff" stroke-width="0.8"/>
<line x1="195.68" y1="222.77" x2="198.68" y2="222.77" stroke="#0000ff" stroke-width="0.8"/>
<line x1="195.68" y1="210.85" x2="198.68" y2="210.85" stroke="#0000ff" stroke-width="0.8"/>
<path d="M197.18,214.56 L199.44,218.45 L194.93,218.45 Z" fill="#0000ff"/>
<line x1="197.18" y1="207.57" x2="197.18" y2="203.40" stroke="#008000" stroke-width="0.8"/>
<line x1="195.68" y1="207.57" x2="198.68" y2="207.57" stroke="#008000" stroke-width="0.8"/>
<line x1="195.68" y1="203.40" x2="198.68" y2="203.40" stroke="#008000" stroke-width="0.8"/>
<path d="M197.18,207.74 L199.44,203.85 L194.93,203.85 Z" fill="#008000"/>
<line x1="197.18" y1="201.61" x2="197.18" y2="197.44" stroke="#8000ff" stroke-width="0.8"/>
<line x1="195.68" y1="201.61" x2="198.68" y2="201.61" stroke="#8000ff" stroke-width="0.8"/>
<line x1="195.68" y1="197.44" x2="198.68" y2="197.44" stroke="#8000ff" stroke-width="0.8"/>
<path d="M197.18,197.07 L199.64,199.53 L197.18,201.99 L194.72,199.53 Z" fill="#8000ff"/>
<line x1="197.18" y1="188.50" x2="197.18" y2="182.54" stroke="#ff8000" stroke-width="0.8"/>
<line x1="195.68" y1="188.50" x2="198.68" y2="188.50" stroke="#ff8000" stroke-width="0.8"/>
<line x1="195.68" y1="182.54" x2="198.68" y2="182.54" stroke="#ff8000" stroke-width="0.8"/>
<path d="M194.93,185.52 L198.82,183.26 L198.82,187.77 Z" fill="#ff8000"/>
<line x1="197.18" y1="188.80" x2="197.18" y2="184.63" stroke="#800000" stroke-width="0.8"/>
<line x1="195.68" y1="188.80" x2="198.68" y2="188.80" stroke="#800000" stroke-width="0.8"/>
<line x1="195.68" y1="184.63" x2="198.68" y2="184.63" stroke="#800000" stroke-width="0.8"/>
<path d="M199.44,186.71 L195.54,184.46 L195.54,188.97 Z" fill="#800000"/>
<line x1="197.18" y1="188.20" x2="197.18" y2="181.65" stroke="#4cb8f2" stroke-width="0.8"/>
<line x1="195.68" y1="188.20" x2="198.68" y2="188.20" stroke="#4cb8f2" stroke-width="0.8"/>
<line x1="195.68" y1="181.65" x2="198.68" y2="181.65" stroke="#4cb8f2" stroke-width="0.8"/>
<circle cx="197.18" cy="184.92" r="2.15" fill="#4cb8f2"/>
<line x1="208.15" y1="223.07" x2="208.15" y2="218.90" stroke="#ff0000" stroke-width="0.8"/>
<line x1="206.65" y1="223.07" x2="209.65" y2="223.07" stroke="#ff0000" stroke-width="0.8"/>
<line x1="206.65" y1="218.90" x2="209.65" y2="218.90" stroke="#ff0000" stroke-width="0.8"/>
<circle cx="208.15" cy="220.98" r="2.15" fill="#ff0000"/>
<line x1="219.12" y1="215.62" x2="219.12" y2="191.78" stroke="#0000ff" stroke-width="0.8"/>
<line x1="217.62" y1="215.62" x2="220.62" y2="215.62" stroke="#0000ff" stroke-width="0.8"/>
<line x1="217.62" y1="191.78" x2="220.62" y2="191.78" stroke="#0000ff" stroke-width="0.8"/>
<path d="M219.12,201.44 L221.38,205.34 L216.87,205.34 Z" fill="#0000ff"/>
<line x1="219.12" y1="191.78" x2="219.12" y2="187.61" stroke="#008000" stroke-width="0.8"/>
<line x1="217.62" y1="191.78" x2="220.62" y2="191.78" stroke="#008000" stroke-width="0.8"/>
<line x1="217.62" y1="187.61" x2="220.62" y2="187.61" stroke="#008000" stroke-width="0.8"/>
<path d="M219.12,191.95 L221.38,188.05 L216.87,188.05 Z" fill="#008000"/>
<line x1="219.12" y1="185.52" x2="219.12" y2="181.35" stroke="#8000ff" stroke-width="0.8"/>
<line x1="217.62" y1="185.52" x2="220.62" y2="185.52" stroke="#8000ff" stroke-width="0.8"/>
<line x1="217.62" y1="181.35" x2="220.62" y2="181.35" stroke="#8000ff" stroke-width="0.8"/>
<path d="M219.12,180.97 L221.58,183.43 L219.12,185.89 L216.66,183.43 Z" fill="#8000ff"/>
<line x1="219.12" y1="172.41" x2="219.12" y2="166.45" stroke="#ff8000" stroke-width="0.8"/>
<line x1="217.62" y1="172.41" x2="220.62" y2="172.41" stroke="#ff8000" stroke-width="0.8"/>
<line x1="217.62" y1="166.45" x2="220.62" y2="166.45" stroke="#ff8000" stroke-width="0.8"/>
<path d="M216.87,169.43 L220.76,167.17 L220.76,171.68 Z" fill="#ff8000"/>
<line x1="219.12" y1="171.81" x2="219.12" y2="167.64" stroke="#800000" stroke-width="0.8"/>
<line x1="217.62" y1="171.81" x2="220.62" y2="171.81" stroke="#800000" stroke-width="0.8"/>
<line x1="217.62" y1="167.64" x2="220.62" y2="167.64" stroke="#800000" stroke-width="0.8"/>
<path d="M221.38,169.73 L217.48,167.47 L217.48,171.98 Z" fill="#800000"/>
<line x1="219.12" y1="171.51" x2="219.12" y2="164.96" stroke="#4cb8f2" stroke-width="0.8"/>
<line x1="217.62" y1="171.51" x2="220.62" y2="171.51" stroke="#4cb8f2" stroke-width="0.8"/>
<line x1="217.62" y1="164.96" x2="220.62" y2="164.96" stroke="#4cb8f2" stroke-width="0.8"/>
<circle cx="219.12" cy="168.24" r="2.15" fill="#4cb8f2"/>
<rect x="270.0" y="158.6" width="191.2" height="153.6" fill="none" stroke="#000" stroke-width="1.4"/>
<line x1="273.40" y1="312.2" x2="273.40" y2="315.70" stroke="#000" stroke-width="1"/>
<text x="273.40" y="326.00" font-size="9.7" text-anchor="middle" fill="#000" textLength="18.5" lengthAdjust="spacingAndGlyphs" >0.00</text>
<line x1="291.30" y1="312.2" x2="291.30" y2="314.50" stroke="#000" stroke-width="1"/>
<line x1="309.20" y1="312.2" x2="309.20" y2="315.70" stroke="#000" stroke-width="1"/>
<text x="309.20" y="326.00" font-size="9.7" text-anchor="middle" fill="#000" textLength="18.5" lengthAdjust="spacingAndGlyphs" >0.02</text>
<line x1="327.10" y1="312.2" x2="327.10" y2="314.50" stroke="#000" stroke-width="1"/>
<line x1="345.00" y1="312.2" x2="345.00" y2="315.70" stroke="#000" stroke-width="1"/>
<text x="345.00" y="326.00" font-size="9.7" text-anchor="middle" fill="#000" textLength="18.5" lengthAdjust="spacingAndGlyphs" >0.04</text>
<line x1="362.90" y1="312.2" x2="362.90" y2="314.50" stroke="#000" stroke-width="1"/>
<line x1="380.80" y1="312.2" x2="380.80" y2="315.70" stroke="#000" stroke-width="1"/>
<text x="380.80" y="326.00" font-size="9.7" text-anchor="middle" fill="#000" textLength="18.5" lengthAdjust="spacingAndGlyphs" >0.06</text>
<line x1="398.70" y1="312.2" x2="398.70" y2="314.50" stroke="#000" stroke-width="1"/>
<line x1="416.60" y1="312.2" x2="416.60" y2="315.70" stroke="#000" stroke-width="1"/>
<text x="416.60" y="326.00" font-size="9.7" text-anchor="middle" fill="#000" textLength="18.5" lengthAdjust="spacingAndGlyphs" >0.08</text>
<line x1="434.50" y1="312.2" x2="434.50" y2="314.50" stroke="#000" stroke-width="1"/>
<line x1="452.40" y1="312.2" x2="452.40" y2="315.70" stroke="#000" stroke-width="1"/>
<text x="452.40" y="326.00" font-size="9.7" text-anchor="middle" fill="#000" textLength="18.5" lengthAdjust="spacingAndGlyphs" >0.10</text>
<line x1="266.50" y1="312.40" x2="270.0" y2="312.40" stroke="#000" stroke-width="1"/>
<text x="265.30" y="315.90" font-size="9.7" text-anchor="end" fill="#000" textLength="13.21" lengthAdjust="spacingAndGlyphs" >1.6</text>
<line x1="267.70" y1="293.18" x2="270.0" y2="293.18" stroke="#000" stroke-width="1"/>
<line x1="266.50" y1="273.96" x2="270.0" y2="273.96" stroke="#000" stroke-width="1"/>
<text x="265.30" y="277.46" font-size="9.7" text-anchor="end" fill="#000" textLength="13.21" lengthAdjust="spacingAndGlyphs" >2.0</text>
<line x1="267.70" y1="254.74" x2="270.0" y2="254.74" stroke="#000" stroke-width="1"/>
<line x1="266.50" y1="235.52" x2="270.0" y2="235.52" stroke="#000" stroke-width="1"/>
<text x="265.30" y="239.02" font-size="9.7" text-anchor="end" fill="#000" textLength="13.21" lengthAdjust="spacingAndGlyphs" >2.4</text>
<line x1="267.70" y1="216.30" x2="270.0" y2="216.30" stroke="#000" stroke-width="1"/>
<line x1="266.50" y1="197.08" x2="270.0" y2="197.08" stroke="#000" stroke-width="1"/>
<text x="265.30" y="200.58" font-size="9.7" text-anchor="end" fill="#000" textLength="13.21" lengthAdjust="spacingAndGlyphs" >2.8</text>
<line x1="267.70" y1="177.86" x2="270.0" y2="177.86" stroke="#000" stroke-width="1"/>
<line x1="266.50" y1="158.64" x2="270.0" y2="158.64" stroke="#000" stroke-width="1"/>
<text x="265.30" y="162.14" font-size="9.7" text-anchor="end" fill="#000" textLength="13.21" lengthAdjust="spacingAndGlyphs" >3.2</text>
<text x="366.3" y="336.2" font-size="10" text-anchor="middle"><tspan font-style="italic">c</tspan><tspan font-size="7" dy="2.3">0</tspan><tspan dy="-2.3"> (g/ml)</tspan></text>
<text transform="translate(249,234.5) rotate(-90)" font-size="10" text-anchor="middle" textLength="40" lengthAdjust="spacingAndGlyphs"><tspan font-style="italic">V</tspan> (μm/s)</text>
<rect x="403.72" y="230.32" width="3.96" height="3.96" fill="#000000"/>
<text x="417.00" y="235.20" font-size="8.4" text-anchor="start" fill="#000" textLength="37.3" lengthAdjust="spacingAndGlyphs" >0.003 g/ml</text>
<circle cx="405.70" cy="242.10" r="2.31" fill="#ff0000"/>
<text x="417.00" y="245.00" font-size="8.4" text-anchor="start" fill="#000" textLength="37.3" lengthAdjust="spacingAndGlyphs" >0.005 g/ml</text>
<path d="M405.70,249.48 L408.12,253.66 L403.28,253.66 Z" fill="#0000ff"/>
<text x="417.00" y="254.80" font-size="8.4" text-anchor="start" fill="#000" textLength="37.3" lengthAdjust="spacingAndGlyphs" >0.010 g/ml</text>
<path d="M405.70,264.12 L408.12,259.94 L403.28,259.94 Z" fill="#008000"/>
<text x="417.00" y="264.60" font-size="8.4" text-anchor="start" fill="#000" textLength="37.3" lengthAdjust="spacingAndGlyphs" >0.020 g/ml</text>
<path d="M405.70,268.86 L408.34,271.50 L405.70,274.14 L403.06,271.50 Z" fill="#8000ff"/>
<text x="417.00" y="274.40" font-size="8.4" text-anchor="start" fill="#000" textLength="37.3" lengthAdjust="spacingAndGlyphs" >0.030 g/ml</text>
<path d="M403.28,281.30 L407.46,278.88 L407.46,283.72 Z" fill="#ff8000"/>
<text x="417.00" y="284.20" font-size="8.4" text-anchor="start" fill="#000" textLength="37.3" lengthAdjust="spacingAndGlyphs" >0.040 g/ml</text>
<path d="M408.12,291.10 L403.94,288.68 L403.94,293.52 Z" fill="#800000"/>
<text x="417.00" y="294.00" font-size="8.4" text-anchor="start" fill="#000" textLength="37.3" lengthAdjust="spacingAndGlyphs" >0.070 g/ml</text>
<circle cx="405.70" cy="300.90" r="2.31" fill="#4cb8f2"/>
<text x="417.00" y="303.80" font-size="8.4" text-anchor="start" fill="#000" textLength="37.3" lengthAdjust="spacingAndGlyphs" >0.100 g/ml</text>
<line x1="278.77" y1="302.79" x2="278.77" y2="278.76" stroke="#000000" stroke-width="0.85"/>
<line x1="276.47" y1="302.79" x2="281.07" y2="302.79" stroke="#000000" stroke-width="0.85"/>
<line x1="276.47" y1="278.76" x2="281.07" y2="278.76" stroke="#000000" stroke-width="0.85"/>
<rect x="276.70" y="288.71" width="4.14" height="4.14" fill="#000000"/>
<line x1="282.35" y1="284.24" x2="282.35" y2="276.55" stroke="#ff0000" stroke-width="0.85"/>
<line x1="280.05" y1="284.24" x2="284.65" y2="284.24" stroke="#ff0000" stroke-width="0.85"/>
<line x1="280.05" y1="276.55" x2="284.65" y2="276.55" stroke="#ff0000" stroke-width="0.85"/>
<circle cx="282.35" cy="280.40" r="2.42" fill="#ff0000"/>
<line x1="291.30" y1="278.76" x2="291.30" y2="238.40" stroke="#0000ff" stroke-width="0.85"/>
<line x1="289.00" y1="278.76" x2="293.60" y2="278.76" stroke="#0000ff" stroke-width="0.85"/>
<line x1="289.00" y1="238.40" x2="293.60" y2="238.40" stroke="#0000ff" stroke-width="0.85"/>
<path d="M291.30,256.05 L293.83,260.42 L288.77,260.42 Z" fill="#0000ff"/>
<line x1="309.20" y1="244.65" x2="309.20" y2="212.94" stroke="#008000" stroke-width="0.85"/>
<line x1="306.90" y1="244.65" x2="311.50" y2="244.65" stroke="#008000" stroke-width="0.85"/>
<line x1="306.90" y1="212.94" x2="311.50" y2="212.94" stroke="#008000" stroke-width="0.85"/>
<path d="M309.20,231.32 L311.73,226.95 L306.67,226.95 Z" fill="#008000"/>
<line x1="327.10" y1="223.80" x2="327.10" y2="214.19" stroke="#8000ff" stroke-width="0.85"/>
<line x1="324.80" y1="223.80" x2="329.40" y2="223.80" stroke="#8000ff" stroke-width="0.85"/>
<line x1="324.80" y1="214.19" x2="329.40" y2="214.19" stroke="#8000ff" stroke-width="0.85"/>
<path d="M327.10,216.23 L329.86,218.99 L327.10,221.75 L324.34,218.99 Z" fill="#8000ff"/>
<line x1="345.00" y1="196.98" x2="345.00" y2="184.49" stroke="#ff8000" stroke-width="0.85"/>
<line x1="342.70" y1="196.98" x2="347.30" y2="196.98" stroke="#ff8000" stroke-width="0.85"/>
<line x1="342.70" y1="184.49" x2="347.30" y2="184.49" stroke="#ff8000" stroke-width="0.85"/>
<path d="M342.47,190.74 L346.84,188.21 L346.84,193.27 Z" fill="#ff8000"/>
<line x1="398.70" y1="189.78" x2="398.70" y2="180.17" stroke="#800000" stroke-width="0.85"/>
<line x1="396.40" y1="189.78" x2="401.00" y2="189.78" stroke="#800000" stroke-width="0.85"/>
<line x1="396.40" y1="180.17" x2="401.00" y2="180.17" stroke="#800000" stroke-width="0.85"/>
<path d="M401.23,184.97 L396.86,182.44 L396.86,187.50 Z" fill="#800000"/>
<line x1="452.40" y1="198.04" x2="452.40" y2="174.98" stroke="#4cb8f2" stroke-width="0.85"/>
<line x1="450.10" y1="198.04" x2="454.70" y2="198.04" stroke="#4cb8f2" stroke-width="0.85"/>
<line x1="450.10" y1="174.98" x2="454.70" y2="174.98" stroke="#4cb8f2" stroke-width="0.85"/>
<circle cx="452.40" cy="186.51" r="2.42" fill="#4cb8f2"/>
<rect x="493.3" y="158.6" width="190.7" height="153.6" fill="none" stroke="#000" stroke-width="1.4"/>
<line x1="493.88" y1="312.2" x2="493.88" y2="314.50" stroke="#000" stroke-width="1"/>
<line x1="512.70" y1="312.2" x2="512.70" y2="314.50" stroke="#000" stroke-width="1"/>
<line x1="526.06" y1="312.2" x2="526.06" y2="314.50" stroke="#000" stroke-width="1"/>
<line x1="536.42" y1="312.2" x2="536.42" y2="314.50" stroke="#000" stroke-width="1"/>
<line x1="544.88" y1="312.2" x2="544.88" y2="314.50" stroke="#000" stroke-width="1"/>
<line x1="552.04" y1="312.2" x2="552.04" y2="314.50" stroke="#000" stroke-width="1"/>
<line x1="558.24" y1="312.2" x2="558.24" y2="314.50" stroke="#000" stroke-width="1"/>
<line x1="563.71" y1="312.2" x2="563.71" y2="314.50" stroke="#000" stroke-width="1"/>
<line x1="568.60" y1="312.2" x2="568.60" y2="315.70" stroke="#000" stroke-width="1"/>
<line x1="600.78" y1="312.2" x2="600.78" y2="314.50" stroke="#000" stroke-width="1"/>
<line x1="619.60" y1="312.2" x2="619.60" y2="314.50" stroke="#000" stroke-width="1"/>
<line x1="632.96" y1="312.2" x2="632.96" y2="314.50" stroke="#000" stroke-width="1"/>
<line x1="643.32" y1="312.2" x2="643.32" y2="314.50" stroke="#000" stroke-width="1"/>
<line x1="651.78" y1="312.2" x2="651.78" y2="314.50" stroke="#000" stroke-width="1"/>
<line x1="658.94" y1="312.2" x2="658.94" y2="314.50" stroke="#000" stroke-width="1"/>
<line x1="665.14" y1="312.2" x2="665.14" y2="314.50" stroke="#000" stroke-width="1"/>
<line x1="670.61" y1="312.2" x2="670.61" y2="314.50" stroke="#000" stroke-width="1"/>
<line x1="675.50" y1="312.2" x2="675.50" y2="315.70" stroke="#000" stroke-width="1"/>
<text x="568.60" y="326.00" font-size="9.7" text-anchor="middle" fill="#000" textLength="18.5" lengthAdjust="spacingAndGlyphs" >0.01</text>
<text x="675.50" y="326.00" font-size="9.7" text-anchor="middle" fill="#000" textLength="13.21" lengthAdjust="spacingAndGlyphs" >0.1</text>
<line x1="491.00" y1="311.72" x2="493.3" y2="311.72" stroke="#000" stroke-width="1"/>
<line x1="491.00" y1="298.30" x2="493.3" y2="298.30" stroke="#000" stroke-width="1"/>
<line x1="491.00" y1="285.64" x2="493.3" y2="285.64" stroke="#000" stroke-width="1"/>
<line x1="491.00" y1="273.66" x2="493.3" y2="273.66" stroke="#000" stroke-width="1"/>
<line x1="489.80" y1="262.30" x2="493.3" y2="262.30" stroke="#000" stroke-width="1"/>
<line x1="491.00" y1="251.49" x2="493.3" y2="251.49" stroke="#000" stroke-width="1"/>
<line x1="491.00" y1="241.19" x2="493.3" y2="241.19" stroke="#000" stroke-width="1"/>
<line x1="491.00" y1="231.34" x2="493.3" y2="231.34" stroke="#000" stroke-width="1"/>
<line x1="491.00" y1="221.92" x2="493.3" y2="221.92" stroke="#000" stroke-width="1"/>
<line x1="491.00" y1="212.88" x2="493.3" y2="212.88" stroke="#000" stroke-width="1"/>
<line x1="491.00" y1="204.19" x2="493.3" y2="204.19" stroke="#000" stroke-width="1"/>
<line x1="491.00" y1="195.83" x2="493.3" y2="195.83" stroke="#000" stroke-width="1"/>
<line x1="491.00" y1="187.77" x2="493.3" y2="187.77" stroke="#000" stroke-width="1"/>
<line x1="491.00" y1="180.00" x2="493.3" y2="180.00" stroke="#000" stroke-width="1"/>
<line x1="489.80" y1="172.49" x2="493.3" y2="172.49" stroke="#000" stroke-width="1"/>
<line x1="491.00" y1="165.23" x2="493.3" y2="165.23" stroke="#000" stroke-width="1"/>
<text x="488.40" y="175.99" font-size="9.7" text-anchor="end" fill="#000" textLength="5.29" lengthAdjust="spacingAndGlyphs" >3</text>
<text x="488.40" y="265.80" font-size="9.7" text-anchor="end" fill="#000" textLength="5.29" lengthAdjust="spacingAndGlyphs" >2</text>
<text x="588.8" y="336.2" font-size="10" text-anchor="middle">log <tspan font-style="italic">c</tspan><tspan font-size="7" dy="2.3">0</tspan><tspan dy="-2.3"> (g/ml)</tspan></text>
<text transform="translate(481.5,234.4) rotate(-90)" font-size="10" text-anchor="middle">log <tspan font-style="italic">V</tspan> (μm/s)</text>
<line x1="512.4" y1="272.6" x2="675.2" y2="172" stroke="#ff0000" stroke-width="1.3"/>
<line x1="629.2" y1="221.1" x2="646.9" y2="221.1" stroke="#ff0000" stroke-width="1.3"/>
<text x="650.20" y="223.60" font-size="7" text-anchor="start" fill="#000" textLength="19.9" lengthAdjust="spacingAndGlyphs" >theory</text>
<rect x="627.32" y="230.92" width="3.96" height="3.96" fill="#000000"/>
<text x="640.70" y="235.80" font-size="8.4" text-anchor="start" fill="#000" textLength="37.3" lengthAdjust="spacingAndGlyphs" >0.003 g/ml</text>
<circle cx="629.30" cy="242.70" r="2.31" fill="#ff0000"/>
<text x="640.70" y="245.60" font-size="8.4" text-anchor="start" fill="#000" textLength="37.3" lengthAdjust="spacingAndGlyphs" >0.005 g/ml</text>
<path d="M629.30,250.08 L631.72,254.26 L626.88,254.26 Z" fill="#0000ff"/>
<text x="640.70" y="255.40" font-size="8.4" text-anchor="start" fill="#000" textLength="37.3" lengthAdjust="spacingAndGlyphs" >0.010 g/ml</text>
<path d="M629.30,264.72 L631.72,260.54 L626.88,260.54 Z" fill="#008000"/>
<text x="640.70" y="265.20" font-size="8.4" text-anchor="start" fill="#000" textLength="37.3" lengthAdjust="spacingAndGlyphs" >0.020 g/ml</text>
<path d="M629.30,269.46 L631.94,272.10 L629.30,274.74 L626.66,272.10 Z" fill="#8000ff"/>
<text x="640.70" y="275.00" font-size="8.4" text-anchor="start" fill="#000" textLength="37.3" lengthAdjust="spacingAndGlyphs" >0.030 g/ml</text>
<path d="M626.88,281.90 L631.06,279.48 L631.06,284.32 Z" fill="#ff8000"/>
<text x="640.70" y="284.80" font-size="8.4" text-anchor="start" fill="#000" textLength="37.3" lengthAdjust="spacingAndGlyphs" >0.040 g/ml</text>
<path d="M631.72,291.70 L627.54,289.28 L627.54,294.12 Z" fill="#800000"/>
<text x="640.70" y="294.60" font-size="8.4" text-anchor="start" fill="#000" textLength="37.3" lengthAdjust="spacingAndGlyphs" >0.070 g/ml</text>
<circle cx="629.30" cy="301.50" r="2.31" fill="#4cb8f2"/>
<text x="640.70" y="304.40" font-size="8.4" text-anchor="start" fill="#000" textLength="37.3" lengthAdjust="spacingAndGlyphs" >0.100 g/ml</text>
<line x1="512.70" y1="298.30" x2="512.70" y2="267.91" stroke="#000000" stroke-width="0.85"/>
<line x1="510.40" y1="298.30" x2="515.00" y2="298.30" stroke="#000000" stroke-width="0.85"/>
<line x1="510.40" y1="267.91" x2="515.00" y2="267.91" stroke="#000000" stroke-width="0.85"/>
<rect x="510.63" y="280.51" width="4.14" height="4.14" fill="#000000"/>
<line x1="536.42" y1="274.48" x2="536.42" y2="265.31" stroke="#ff0000" stroke-width="0.85"/>
<line x1="534.12" y1="274.48" x2="538.72" y2="274.48" stroke="#ff0000" stroke-width="0.85"/>
<line x1="534.12" y1="265.31" x2="538.72" y2="265.31" stroke="#ff0000" stroke-width="0.85"/>
<circle cx="536.42" cy="269.85" r="2.42" fill="#ff0000"/>
<line x1="568.60" y1="267.91" x2="568.60" y2="224.70" stroke="#0000ff" stroke-width="0.85"/>
<line x1="566.30" y1="267.91" x2="570.90" y2="267.91" stroke="#0000ff" stroke-width="0.85"/>
<line x1="566.30" y1="224.70" x2="570.90" y2="224.70" stroke="#0000ff" stroke-width="0.85"/>
<path d="M568.60,242.72 L571.13,247.09 L566.07,247.09 Z" fill="#0000ff"/>
<line x1="600.78" y1="230.86" x2="600.78" y2="201.23" stroke="#008000" stroke-width="0.85"/>
<line x1="598.48" y1="230.86" x2="603.08" y2="230.86" stroke="#008000" stroke-width="0.85"/>
<line x1="598.48" y1="201.23" x2="603.08" y2="201.23" stroke="#008000" stroke-width="0.85"/>
<path d="M600.78,218.08 L603.31,213.71 L598.25,213.71 Z" fill="#008000"/>
<line x1="619.60" y1="210.94" x2="619.60" y2="202.32" stroke="#8000ff" stroke-width="0.85"/>
<line x1="617.30" y1="210.94" x2="621.90" y2="210.94" stroke="#8000ff" stroke-width="0.85"/>
<line x1="617.30" y1="202.32" x2="621.90" y2="202.32" stroke="#8000ff" stroke-width="0.85"/>
<path d="M619.60,203.83 L622.36,206.59 L619.60,209.35 L616.84,206.59 Z" fill="#8000ff"/>
<line x1="632.96" y1="187.70" x2="632.96" y2="177.65" stroke="#ff8000" stroke-width="0.85"/>
<line x1="630.66" y1="187.70" x2="635.26" y2="187.70" stroke="#ff8000" stroke-width="0.85"/>
<line x1="630.66" y1="177.65" x2="635.26" y2="177.65" stroke="#ff8000" stroke-width="0.85"/>
<path d="M630.43,182.61 L634.80,180.08 L634.80,185.14 Z" fill="#ff8000"/>
<line x1="658.94" y1="181.84" x2="658.94" y2="174.27" stroke="#800000" stroke-width="0.85"/>
<line x1="656.64" y1="181.84" x2="661.24" y2="181.84" stroke="#800000" stroke-width="0.85"/>
<line x1="656.64" y1="174.27" x2="661.24" y2="174.27" stroke="#800000" stroke-width="0.85"/>
<path d="M661.47,178.03 L657.10,175.50 L657.10,180.56 Z" fill="#800000"/>
<line x1="675.50" y1="188.57" x2="675.50" y2="170.29" stroke="#4cb8f2" stroke-width="0.85"/>
<line x1="673.20" y1="188.57" x2="677.80" y2="188.57" stroke="#4cb8f2" stroke-width="0.85"/>
<line x1="673.20" y1="170.29" x2="677.80" y2="170.29" stroke="#4cb8f2" stroke-width="0.85"/>
<circle cx="675.50" cy="179.24" r="2.42" fill="#4cb8f2"/></svg>
</body></html>
